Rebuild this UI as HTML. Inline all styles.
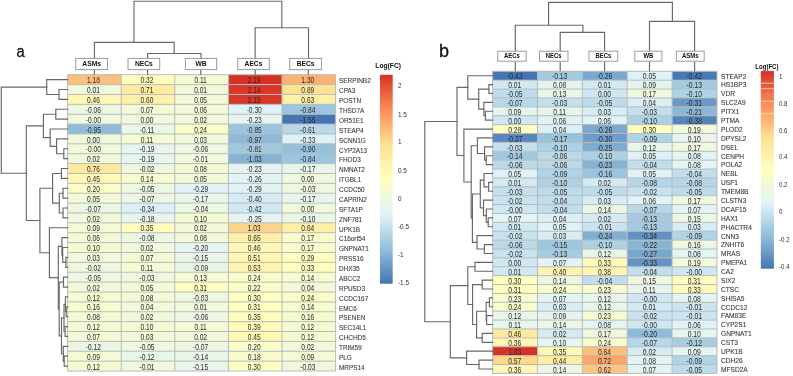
<!DOCTYPE html>
<html><head><meta charset="utf-8"><title>Heatmaps</title>
<style>
html,body{margin:0;padding:0;background:#fff;}
body{width:793px;height:376px;overflow:hidden;}
svg{display:block;font-family:"Liberation Sans", sans-serif;filter:blur(0.35px);}
</style></head>
<body>
<svg width="793" height="376" viewBox="0 0 793 376" shape-rendering="auto">
<text x="0.00" y="0.00" font-size="17.2" text-anchor="start" font-weight="normal" fill="#111" stroke="#111" stroke-width="0.3" transform="translate(16.60,56.70) scale(0.86,1)">a</text>
<text x="439.00" y="57.40" font-size="18" text-anchor="start" font-weight="normal" fill="#111" stroke="#111" stroke-width="0.3">b</text>
<rect x="67.60" y="74.70" width="53.60" height="9.88" fill="#fdc07b"/>
<rect x="121.20" y="74.70" width="53.60" height="9.88" fill="#ffffbf"/>
<rect x="174.80" y="74.70" width="53.60" height="9.88" fill="#f5fbd2"/>
<rect x="228.40" y="74.70" width="53.60" height="9.88" fill="#d73027"/>
<rect x="282.00" y="74.70" width="53.60" height="9.88" fill="#fdb171"/>
<rect x="67.60" y="84.58" width="53.60" height="9.88" fill="#f0f9db"/>
<rect x="121.20" y="84.58" width="53.60" height="9.88" fill="#feeca2"/>
<rect x="174.80" y="84.58" width="53.60" height="9.88" fill="#f0f9db"/>
<rect x="228.40" y="84.58" width="53.60" height="9.88" fill="#da372b"/>
<rect x="282.00" y="84.58" width="53.60" height="9.88" fill="#fee394"/>
<rect x="67.60" y="94.45" width="53.60" height="9.88" fill="#fff8b4"/>
<rect x="121.20" y="94.45" width="53.60" height="9.88" fill="#fff1aa"/>
<rect x="174.80" y="94.45" width="53.60" height="9.88" fill="#f2fad8"/>
<rect x="228.40" y="94.45" width="53.60" height="9.88" fill="#d9362a"/>
<rect x="282.00" y="94.45" width="53.60" height="9.88" fill="#fff0a8"/>
<rect x="67.60" y="104.33" width="53.60" height="9.88" fill="#ecf8e2"/>
<rect x="121.20" y="104.33" width="53.60" height="9.88" fill="#f3fad6"/>
<rect x="174.80" y="104.33" width="53.60" height="9.88" fill="#f2fad7"/>
<rect x="228.40" y="104.33" width="53.60" height="9.88" fill="#e0f3f8"/>
<rect x="282.00" y="104.33" width="53.60" height="9.88" fill="#9cc6df"/>
<rect x="67.60" y="114.21" width="53.60" height="9.88" fill="#eff9dc"/>
<rect x="121.20" y="114.21" width="53.60" height="9.88" fill="#eff9dc"/>
<rect x="174.80" y="114.21" width="53.60" height="9.88" fill="#f0f9da"/>
<rect x="228.40" y="114.21" width="53.60" height="9.88" fill="#e4f4f1"/>
<rect x="282.00" y="114.21" width="53.60" height="9.88" fill="#4575b4"/>
<rect x="67.60" y="124.08" width="53.60" height="9.88" fill="#8ebcda"/>
<rect x="121.20" y="124.08" width="53.60" height="9.88" fill="#eaf7e6"/>
<rect x="174.80" y="124.08" width="53.60" height="9.88" fill="#fbfdc6"/>
<rect x="228.40" y="124.08" width="53.60" height="9.88" fill="#9bc5df"/>
<rect x="282.00" y="124.08" width="53.60" height="9.88" fill="#b9d9ea"/>
<rect x="67.60" y="133.96" width="53.60" height="9.88" fill="#eff9dc"/>
<rect x="121.20" y="133.96" width="53.60" height="9.88" fill="#f5fbd2"/>
<rect x="174.80" y="133.96" width="53.60" height="9.88" fill="#f1f9da"/>
<rect x="228.40" y="133.96" width="53.60" height="9.88" fill="#8cbad8"/>
<rect x="282.00" y="133.96" width="53.60" height="9.88" fill="#ddf1f7"/>
<rect x="67.60" y="143.84" width="53.60" height="9.88" fill="#eff9dc"/>
<rect x="121.20" y="143.84" width="53.60" height="9.88" fill="#e6f5ee"/>
<rect x="174.80" y="143.84" width="53.60" height="9.88" fill="#ecf8e2"/>
<rect x="228.40" y="143.84" width="53.60" height="9.88" fill="#a0c9e0"/>
<rect x="282.00" y="143.84" width="53.60" height="9.88" fill="#94c1dc"/>
<rect x="67.60" y="153.71" width="53.60" height="9.88" fill="#f0f9da"/>
<rect x="121.20" y="153.71" width="53.60" height="9.88" fill="#e6f5ee"/>
<rect x="174.80" y="153.71" width="53.60" height="9.88" fill="#eff9dd"/>
<rect x="228.40" y="153.71" width="53.60" height="9.88" fill="#84b3d5"/>
<rect x="282.00" y="153.71" width="53.60" height="9.88" fill="#9cc6df"/>
<rect x="67.60" y="163.59" width="53.60" height="9.88" fill="#fee99e"/>
<rect x="121.20" y="163.59" width="53.60" height="9.88" fill="#eef8de"/>
<rect x="174.80" y="163.59" width="53.60" height="9.88" fill="#f3fad5"/>
<rect x="228.40" y="163.59" width="53.60" height="9.88" fill="#e4f4f1"/>
<rect x="282.00" y="163.59" width="53.60" height="9.88" fill="#e7f6ec"/>
<rect x="67.60" y="173.47" width="53.60" height="9.88" fill="#fff9b5"/>
<rect x="121.20" y="173.47" width="53.60" height="9.88" fill="#f6fccf"/>
<rect x="174.80" y="173.47" width="53.60" height="9.88" fill="#f2fad8"/>
<rect x="228.40" y="173.47" width="53.60" height="9.88" fill="#e2f4f4"/>
<rect x="282.00" y="173.47" width="53.60" height="9.88" fill="#eff9dc"/>
<rect x="67.60" y="183.34" width="53.60" height="9.88" fill="#f9fdca"/>
<rect x="121.20" y="183.34" width="53.60" height="9.88" fill="#edf8e1"/>
<rect x="174.80" y="183.34" width="53.60" height="9.88" fill="#e1f3f7"/>
<rect x="228.40" y="183.34" width="53.60" height="9.88" fill="#e1f3f7"/>
<rect x="282.00" y="183.34" width="53.60" height="9.88" fill="#eef8df"/>
<rect x="67.60" y="193.22" width="53.60" height="9.88" fill="#f2fad8"/>
<rect x="121.20" y="193.22" width="53.60" height="9.88" fill="#ecf7e3"/>
<rect x="174.80" y="193.22" width="53.60" height="9.88" fill="#e7f6ec"/>
<rect x="228.40" y="193.22" width="53.60" height="9.88" fill="#d4ebf4"/>
<rect x="282.00" y="193.22" width="53.60" height="9.88" fill="#e7f6ec"/>
<rect x="67.60" y="203.10" width="53.60" height="9.88" fill="#ecf7e3"/>
<rect x="121.20" y="203.10" width="53.60" height="9.88" fill="#dbf0f6"/>
<rect x="174.80" y="203.10" width="53.60" height="9.88" fill="#edf8e0"/>
<rect x="228.40" y="203.10" width="53.60" height="9.88" fill="#d1e9f3"/>
<rect x="282.00" y="203.10" width="53.60" height="9.88" fill="#eff9dc"/>
<rect x="67.60" y="212.97" width="53.60" height="9.88" fill="#f0f9da"/>
<rect x="121.20" y="212.97" width="53.60" height="9.88" fill="#e6f5ed"/>
<rect x="174.80" y="212.97" width="53.60" height="9.88" fill="#f4fbd3"/>
<rect x="228.40" y="212.97" width="53.60" height="9.88" fill="#e3f4f3"/>
<rect x="282.00" y="212.97" width="53.60" height="9.88" fill="#eaf7e5"/>
<rect x="67.60" y="222.85" width="53.60" height="9.88" fill="#f4fbd4"/>
<rect x="121.20" y="222.85" width="53.60" height="9.88" fill="#fffebd"/>
<rect x="174.80" y="222.85" width="53.60" height="9.88" fill="#f0f9da"/>
<rect x="228.40" y="222.85" width="53.60" height="9.88" fill="#fed488"/>
<rect x="282.00" y="222.85" width="53.60" height="9.88" fill="#feefa7"/>
<rect x="67.60" y="232.73" width="53.60" height="9.88" fill="#f2fad7"/>
<rect x="121.20" y="232.73" width="53.60" height="9.88" fill="#ebf7e4"/>
<rect x="174.80" y="232.73" width="53.60" height="9.88" fill="#f3fad5"/>
<rect x="228.40" y="232.73" width="53.60" height="9.88" fill="#feefa6"/>
<rect x="282.00" y="232.73" width="53.60" height="9.88" fill="#f8fccd"/>
<rect x="67.60" y="242.60" width="53.60" height="9.88" fill="#f4fbd3"/>
<rect x="121.20" y="242.60" width="53.60" height="9.88" fill="#f0f9da"/>
<rect x="174.80" y="242.60" width="53.60" height="9.88" fill="#e5f5ef"/>
<rect x="228.40" y="242.60" width="53.60" height="9.88" fill="#fff8b4"/>
<rect x="282.00" y="242.60" width="53.60" height="9.88" fill="#f8fccd"/>
<rect x="67.60" y="252.48" width="53.60" height="9.88" fill="#f1f9da"/>
<rect x="121.20" y="252.48" width="53.60" height="9.88" fill="#f3fad6"/>
<rect x="174.80" y="252.48" width="53.60" height="9.88" fill="#e8f6ea"/>
<rect x="228.40" y="252.48" width="53.60" height="9.88" fill="#fff6b1"/>
<rect x="282.00" y="252.48" width="53.60" height="9.88" fill="#fefec2"/>
<rect x="67.60" y="262.36" width="53.60" height="9.88" fill="#eef8de"/>
<rect x="121.20" y="262.36" width="53.60" height="9.88" fill="#f5fbd2"/>
<rect x="174.80" y="262.36" width="53.60" height="9.88" fill="#ebf7e4"/>
<rect x="228.40" y="262.36" width="53.60" height="9.88" fill="#fff5af"/>
<rect x="282.00" y="262.36" width="53.60" height="9.88" fill="#ffffbe"/>
<rect x="67.60" y="272.23" width="53.60" height="9.88" fill="#edf8e1"/>
<rect x="121.20" y="272.23" width="53.60" height="9.88" fill="#eef8df"/>
<rect x="174.80" y="272.23" width="53.60" height="9.88" fill="#f6fbd0"/>
<rect x="228.40" y="272.23" width="53.60" height="9.88" fill="#fbfdc6"/>
<rect x="282.00" y="272.23" width="53.60" height="9.88" fill="#f6fccf"/>
<rect x="67.60" y="282.11" width="53.60" height="9.88" fill="#f0f9da"/>
<rect x="121.20" y="282.11" width="53.60" height="9.88" fill="#f2fad8"/>
<rect x="174.80" y="282.11" width="53.60" height="9.88" fill="#ffffc0"/>
<rect x="228.40" y="282.11" width="53.60" height="9.88" fill="#fafdc8"/>
<rect x="282.00" y="282.11" width="53.60" height="9.88" fill="#f1fad9"/>
<rect x="67.60" y="291.99" width="53.60" height="9.88" fill="#f5fbd1"/>
<rect x="121.20" y="291.99" width="53.60" height="9.88" fill="#f3fad5"/>
<rect x="174.80" y="291.99" width="53.60" height="9.88" fill="#eef8df"/>
<rect x="228.40" y="291.99" width="53.60" height="9.88" fill="#feffc1"/>
<rect x="282.00" y="291.99" width="53.60" height="9.88" fill="#fbfdc6"/>
<rect x="67.60" y="301.86" width="53.60" height="9.88" fill="#f7fcce"/>
<rect x="121.20" y="301.86" width="53.60" height="9.88" fill="#f1fad9"/>
<rect x="174.80" y="301.86" width="53.60" height="9.88" fill="#f0f9db"/>
<rect x="228.40" y="301.86" width="53.60" height="9.88" fill="#ffffc0"/>
<rect x="282.00" y="301.86" width="53.60" height="9.88" fill="#f6fccf"/>
<rect x="67.60" y="311.74" width="53.60" height="9.88" fill="#f3fad5"/>
<rect x="121.20" y="311.74" width="53.60" height="9.88" fill="#f0f9da"/>
<rect x="174.80" y="311.74" width="53.60" height="9.88" fill="#ecf8e2"/>
<rect x="228.40" y="311.74" width="53.60" height="9.88" fill="#fffebd"/>
<rect x="282.00" y="311.74" width="53.60" height="9.88" fill="#f7fcce"/>
<rect x="67.60" y="321.62" width="53.60" height="9.88" fill="#f5fbd1"/>
<rect x="121.20" y="321.62" width="53.60" height="9.88" fill="#f4fbd3"/>
<rect x="174.80" y="321.62" width="53.60" height="9.88" fill="#f5fbd2"/>
<rect x="228.40" y="321.62" width="53.60" height="9.88" fill="#fffcba"/>
<rect x="282.00" y="321.62" width="53.60" height="9.88" fill="#f5fbd1"/>
<rect x="67.60" y="331.49" width="53.60" height="9.88" fill="#f3fad6"/>
<rect x="121.20" y="331.49" width="53.60" height="9.88" fill="#f1f9da"/>
<rect x="174.80" y="331.49" width="53.60" height="9.88" fill="#f0f9da"/>
<rect x="228.40" y="331.49" width="53.60" height="9.88" fill="#fff9b5"/>
<rect x="282.00" y="331.49" width="53.60" height="9.88" fill="#f5fbd1"/>
<rect x="67.60" y="341.37" width="53.60" height="9.88" fill="#e9f7e7"/>
<rect x="121.20" y="341.37" width="53.60" height="9.88" fill="#edf8e1"/>
<rect x="174.80" y="341.37" width="53.60" height="9.88" fill="#ecf7e3"/>
<rect x="228.40" y="341.37" width="53.60" height="9.88" fill="#f9fdca"/>
<rect x="282.00" y="341.37" width="53.60" height="9.88" fill="#f0f9da"/>
<rect x="67.60" y="351.25" width="53.60" height="9.88" fill="#f4fbd4"/>
<rect x="121.20" y="351.25" width="53.60" height="9.88" fill="#e9f7e7"/>
<rect x="174.80" y="351.25" width="53.60" height="9.88" fill="#e8f6e9"/>
<rect x="228.40" y="351.25" width="53.60" height="9.88" fill="#f8fccc"/>
<rect x="282.00" y="351.25" width="53.60" height="9.88" fill="#f4fbd4"/>
<rect x="67.60" y="361.12" width="53.60" height="9.88" fill="#f5fbd1"/>
<rect x="121.20" y="361.12" width="53.60" height="9.88" fill="#eff9dd"/>
<rect x="174.80" y="361.12" width="53.60" height="9.88" fill="#e8f6ea"/>
<rect x="228.40" y="361.12" width="53.60" height="9.88" fill="#feffc1"/>
<rect x="282.00" y="361.12" width="53.60" height="9.88" fill="#eef8df"/>
<line x1="67.60" y1="74.70" x2="335.60" y2="74.70" stroke="#bababa" stroke-width="1"/>
<line x1="67.60" y1="84.58" x2="335.60" y2="84.58" stroke="#bababa" stroke-width="1"/>
<line x1="67.60" y1="94.45" x2="335.60" y2="94.45" stroke="#bababa" stroke-width="1"/>
<line x1="67.60" y1="104.33" x2="335.60" y2="104.33" stroke="#bababa" stroke-width="1"/>
<line x1="67.60" y1="114.21" x2="335.60" y2="114.21" stroke="#bababa" stroke-width="1"/>
<line x1="67.60" y1="124.08" x2="335.60" y2="124.08" stroke="#bababa" stroke-width="1"/>
<line x1="67.60" y1="133.96" x2="335.60" y2="133.96" stroke="#bababa" stroke-width="1"/>
<line x1="67.60" y1="143.84" x2="335.60" y2="143.84" stroke="#bababa" stroke-width="1"/>
<line x1="67.60" y1="153.71" x2="335.60" y2="153.71" stroke="#bababa" stroke-width="1"/>
<line x1="67.60" y1="163.59" x2="335.60" y2="163.59" stroke="#bababa" stroke-width="1"/>
<line x1="67.60" y1="173.47" x2="335.60" y2="173.47" stroke="#bababa" stroke-width="1"/>
<line x1="67.60" y1="183.34" x2="335.60" y2="183.34" stroke="#bababa" stroke-width="1"/>
<line x1="67.60" y1="193.22" x2="335.60" y2="193.22" stroke="#bababa" stroke-width="1"/>
<line x1="67.60" y1="203.10" x2="335.60" y2="203.10" stroke="#bababa" stroke-width="1"/>
<line x1="67.60" y1="212.97" x2="335.60" y2="212.97" stroke="#bababa" stroke-width="1"/>
<line x1="67.60" y1="222.85" x2="335.60" y2="222.85" stroke="#bababa" stroke-width="1"/>
<line x1="67.60" y1="232.73" x2="335.60" y2="232.73" stroke="#bababa" stroke-width="1"/>
<line x1="67.60" y1="242.60" x2="335.60" y2="242.60" stroke="#bababa" stroke-width="1"/>
<line x1="67.60" y1="252.48" x2="335.60" y2="252.48" stroke="#bababa" stroke-width="1"/>
<line x1="67.60" y1="262.36" x2="335.60" y2="262.36" stroke="#bababa" stroke-width="1"/>
<line x1="67.60" y1="272.23" x2="335.60" y2="272.23" stroke="#bababa" stroke-width="1"/>
<line x1="67.60" y1="282.11" x2="335.60" y2="282.11" stroke="#bababa" stroke-width="1"/>
<line x1="67.60" y1="291.99" x2="335.60" y2="291.99" stroke="#bababa" stroke-width="1"/>
<line x1="67.60" y1="301.86" x2="335.60" y2="301.86" stroke="#bababa" stroke-width="1"/>
<line x1="67.60" y1="311.74" x2="335.60" y2="311.74" stroke="#bababa" stroke-width="1"/>
<line x1="67.60" y1="321.62" x2="335.60" y2="321.62" stroke="#bababa" stroke-width="1"/>
<line x1="67.60" y1="331.49" x2="335.60" y2="331.49" stroke="#bababa" stroke-width="1"/>
<line x1="67.60" y1="341.37" x2="335.60" y2="341.37" stroke="#bababa" stroke-width="1"/>
<line x1="67.60" y1="351.25" x2="335.60" y2="351.25" stroke="#bababa" stroke-width="1"/>
<line x1="67.60" y1="361.12" x2="335.60" y2="361.12" stroke="#bababa" stroke-width="1"/>
<line x1="67.60" y1="371.00" x2="335.60" y2="371.00" stroke="#bababa" stroke-width="1"/>
<line x1="67.60" y1="74.70" x2="67.60" y2="371.00" stroke="#bababa" stroke-width="1"/>
<line x1="121.20" y1="74.70" x2="121.20" y2="371.00" stroke="#bababa" stroke-width="1"/>
<line x1="174.80" y1="74.70" x2="174.80" y2="371.00" stroke="#bababa" stroke-width="1"/>
<line x1="228.40" y1="74.70" x2="228.40" y2="371.00" stroke="#bababa" stroke-width="1"/>
<line x1="282.00" y1="74.70" x2="282.00" y2="371.00" stroke="#bababa" stroke-width="1"/>
<line x1="335.60" y1="74.70" x2="335.60" y2="371.00" stroke="#bababa" stroke-width="1"/>
<text x="0.00" y="0.00" font-size="8.3" text-anchor="middle" font-weight="normal" fill="#2a2a2a" transform="translate(93.40,83.33) scale(0.8,1)">1.18</text>
<text x="0.00" y="0.00" font-size="8.3" text-anchor="middle" font-weight="normal" fill="#2a2a2a" transform="translate(147.00,83.33) scale(0.8,1)">0.32</text>
<text x="0.00" y="0.00" font-size="8.3" text-anchor="middle" font-weight="normal" fill="#2a2a2a" transform="translate(200.60,83.33) scale(0.8,1)">0.11</text>
<text x="0.00" y="0.00" font-size="8.3" text-anchor="middle" font-weight="normal" fill="#2a2a2a" transform="translate(254.20,83.33) scale(0.8,1)">2.19</text>
<text x="0.00" y="0.00" font-size="8.3" text-anchor="middle" font-weight="normal" fill="#2a2a2a" transform="translate(307.80,83.33) scale(0.8,1)">1.30</text>
<text x="0.00" y="0.00" font-size="7.3" text-anchor="start" font-weight="normal" fill="#3a3a3a" stroke="#3a3a3a" stroke-width="0.1" transform="translate(339.00,83.37) scale(0.88,1)">SERPINB2</text>
<text x="0.00" y="0.00" font-size="8.3" text-anchor="middle" font-weight="normal" fill="#2a2a2a" transform="translate(93.40,93.20) scale(0.8,1)">0.01</text>
<text x="0.00" y="0.00" font-size="8.3" text-anchor="middle" font-weight="normal" fill="#2a2a2a" transform="translate(147.00,93.20) scale(0.8,1)">0.71</text>
<text x="0.00" y="0.00" font-size="8.3" text-anchor="middle" font-weight="normal" fill="#2a2a2a" transform="translate(200.60,93.20) scale(0.8,1)">0.01</text>
<text x="0.00" y="0.00" font-size="8.3" text-anchor="middle" font-weight="normal" fill="#2a2a2a" transform="translate(254.20,93.20) scale(0.8,1)">2.14</text>
<text x="0.00" y="0.00" font-size="8.3" text-anchor="middle" font-weight="normal" fill="#2a2a2a" transform="translate(307.80,93.20) scale(0.8,1)">0.89</text>
<text x="0.00" y="0.00" font-size="7.3" text-anchor="start" font-weight="normal" fill="#3a3a3a" stroke="#3a3a3a" stroke-width="0.1" transform="translate(339.00,93.24) scale(0.88,1)">CPA3</text>
<text x="0.00" y="0.00" font-size="8.3" text-anchor="middle" font-weight="normal" fill="#2a2a2a" transform="translate(93.40,103.08) scale(0.8,1)">0.46</text>
<text x="0.00" y="0.00" font-size="8.3" text-anchor="middle" font-weight="normal" fill="#2a2a2a" transform="translate(147.00,103.08) scale(0.8,1)">0.60</text>
<text x="0.00" y="0.00" font-size="8.3" text-anchor="middle" font-weight="normal" fill="#2a2a2a" transform="translate(200.60,103.08) scale(0.8,1)">0.05</text>
<text x="0.00" y="0.00" font-size="8.3" text-anchor="middle" font-weight="normal" fill="#2a2a2a" transform="translate(254.20,103.08) scale(0.8,1)">2.15</text>
<text x="0.00" y="0.00" font-size="8.3" text-anchor="middle" font-weight="normal" fill="#2a2a2a" transform="translate(307.80,103.08) scale(0.8,1)">0.63</text>
<text x="0.00" y="0.00" font-size="7.3" text-anchor="start" font-weight="normal" fill="#3a3a3a" stroke="#3a3a3a" stroke-width="0.1" transform="translate(339.00,103.12) scale(0.88,1)">POSTN</text>
<text x="0.00" y="0.00" font-size="8.3" text-anchor="middle" font-weight="normal" fill="#2a2a2a" transform="translate(93.40,112.96) scale(0.8,1)">-0.06</text>
<text x="0.00" y="0.00" font-size="8.3" text-anchor="middle" font-weight="normal" fill="#2a2a2a" transform="translate(147.00,112.96) scale(0.8,1)">0.07</text>
<text x="0.00" y="0.00" font-size="8.3" text-anchor="middle" font-weight="normal" fill="#2a2a2a" transform="translate(200.60,112.96) scale(0.8,1)">0.06</text>
<text x="0.00" y="0.00" font-size="8.3" text-anchor="middle" font-weight="normal" fill="#2a2a2a" transform="translate(254.20,112.96) scale(0.8,1)">-0.30</text>
<text x="0.00" y="0.00" font-size="8.3" text-anchor="middle" font-weight="normal" fill="#2a2a2a" transform="translate(307.80,112.96) scale(0.8,1)">-0.84</text>
<text x="0.00" y="0.00" font-size="7.3" text-anchor="start" font-weight="normal" fill="#3a3a3a" stroke="#3a3a3a" stroke-width="0.1" transform="translate(339.00,113.00) scale(0.88,1)">THSD7A</text>
<text x="0.00" y="0.00" font-size="8.3" text-anchor="middle" font-weight="normal" fill="#2a2a2a" transform="translate(93.40,122.83) scale(0.8,1)">-0.00</text>
<text x="0.00" y="0.00" font-size="8.3" text-anchor="middle" font-weight="normal" fill="#2a2a2a" transform="translate(147.00,122.83) scale(0.8,1)">0.00</text>
<text x="0.00" y="0.00" font-size="8.3" text-anchor="middle" font-weight="normal" fill="#2a2a2a" transform="translate(200.60,122.83) scale(0.8,1)">0.02</text>
<text x="0.00" y="0.00" font-size="8.3" text-anchor="middle" font-weight="normal" fill="#2a2a2a" transform="translate(254.20,122.83) scale(0.8,1)">-0.23</text>
<text x="0.00" y="0.00" font-size="8.3" text-anchor="middle" font-weight="normal" fill="#2a2a2a" transform="translate(307.80,122.83) scale(0.8,1)">-1.55</text>
<text x="0.00" y="0.00" font-size="7.3" text-anchor="start" font-weight="normal" fill="#3a3a3a" stroke="#3a3a3a" stroke-width="0.1" transform="translate(339.00,122.87) scale(0.88,1)">OR51E1</text>
<text x="0.00" y="0.00" font-size="8.3" text-anchor="middle" font-weight="normal" fill="#2a2a2a" transform="translate(93.40,132.71) scale(0.8,1)">-0.95</text>
<text x="0.00" y="0.00" font-size="8.3" text-anchor="middle" font-weight="normal" fill="#2a2a2a" transform="translate(147.00,132.71) scale(0.8,1)">-0.11</text>
<text x="0.00" y="0.00" font-size="8.3" text-anchor="middle" font-weight="normal" fill="#2a2a2a" transform="translate(200.60,132.71) scale(0.8,1)">0.24</text>
<text x="0.00" y="0.00" font-size="8.3" text-anchor="middle" font-weight="normal" fill="#2a2a2a" transform="translate(254.20,132.71) scale(0.8,1)">-0.85</text>
<text x="0.00" y="0.00" font-size="8.3" text-anchor="middle" font-weight="normal" fill="#2a2a2a" transform="translate(307.80,132.71) scale(0.8,1)">-0.61</text>
<text x="0.00" y="0.00" font-size="7.3" text-anchor="start" font-weight="normal" fill="#3a3a3a" stroke="#3a3a3a" stroke-width="0.1" transform="translate(339.00,132.75) scale(0.88,1)">STEAP4</text>
<text x="0.00" y="0.00" font-size="8.3" text-anchor="middle" font-weight="normal" fill="#2a2a2a" transform="translate(93.40,142.59) scale(0.8,1)">0.00</text>
<text x="0.00" y="0.00" font-size="8.3" text-anchor="middle" font-weight="normal" fill="#2a2a2a" transform="translate(147.00,142.59) scale(0.8,1)">0.11</text>
<text x="0.00" y="0.00" font-size="8.3" text-anchor="middle" font-weight="normal" fill="#2a2a2a" transform="translate(200.60,142.59) scale(0.8,1)">0.03</text>
<text x="0.00" y="0.00" font-size="8.3" text-anchor="middle" font-weight="normal" fill="#2a2a2a" transform="translate(254.20,142.59) scale(0.8,1)">-0.97</text>
<text x="0.00" y="0.00" font-size="8.3" text-anchor="middle" font-weight="normal" fill="#2a2a2a" transform="translate(307.80,142.59) scale(0.8,1)">-0.33</text>
<text x="0.00" y="0.00" font-size="7.3" text-anchor="start" font-weight="normal" fill="#3a3a3a" stroke="#3a3a3a" stroke-width="0.1" transform="translate(339.00,142.63) scale(0.88,1)">SCNN1G</text>
<text x="0.00" y="0.00" font-size="8.3" text-anchor="middle" font-weight="normal" fill="#2a2a2a" transform="translate(93.40,152.46) scale(0.8,1)">-0.00</text>
<text x="0.00" y="0.00" font-size="8.3" text-anchor="middle" font-weight="normal" fill="#2a2a2a" transform="translate(147.00,152.46) scale(0.8,1)">-0.19</text>
<text x="0.00" y="0.00" font-size="8.3" text-anchor="middle" font-weight="normal" fill="#2a2a2a" transform="translate(200.60,152.46) scale(0.8,1)">-0.06</text>
<text x="0.00" y="0.00" font-size="8.3" text-anchor="middle" font-weight="normal" fill="#2a2a2a" transform="translate(254.20,152.46) scale(0.8,1)">-0.81</text>
<text x="0.00" y="0.00" font-size="8.3" text-anchor="middle" font-weight="normal" fill="#2a2a2a" transform="translate(307.80,152.46) scale(0.8,1)">-0.90</text>
<text x="0.00" y="0.00" font-size="7.3" text-anchor="start" font-weight="normal" fill="#3a3a3a" stroke="#3a3a3a" stroke-width="0.1" transform="translate(339.00,152.50) scale(0.88,1)">CYP2A13</text>
<text x="0.00" y="0.00" font-size="8.3" text-anchor="middle" font-weight="normal" fill="#2a2a2a" transform="translate(93.40,162.34) scale(0.8,1)">0.02</text>
<text x="0.00" y="0.00" font-size="8.3" text-anchor="middle" font-weight="normal" fill="#2a2a2a" transform="translate(147.00,162.34) scale(0.8,1)">-0.19</text>
<text x="0.00" y="0.00" font-size="8.3" text-anchor="middle" font-weight="normal" fill="#2a2a2a" transform="translate(200.60,162.34) scale(0.8,1)">-0.01</text>
<text x="0.00" y="0.00" font-size="8.3" text-anchor="middle" font-weight="normal" fill="#2a2a2a" transform="translate(254.20,162.34) scale(0.8,1)">-1.03</text>
<text x="0.00" y="0.00" font-size="8.3" text-anchor="middle" font-weight="normal" fill="#2a2a2a" transform="translate(307.80,162.34) scale(0.8,1)">-0.84</text>
<text x="0.00" y="0.00" font-size="7.3" text-anchor="start" font-weight="normal" fill="#3a3a3a" stroke="#3a3a3a" stroke-width="0.1" transform="translate(339.00,162.38) scale(0.88,1)">FHOD3</text>
<text x="0.00" y="0.00" font-size="8.3" text-anchor="middle" font-weight="normal" fill="#2a2a2a" transform="translate(93.40,172.22) scale(0.8,1)">0.76</text>
<text x="0.00" y="0.00" font-size="8.3" text-anchor="middle" font-weight="normal" fill="#2a2a2a" transform="translate(147.00,172.22) scale(0.8,1)">-0.02</text>
<text x="0.00" y="0.00" font-size="8.3" text-anchor="middle" font-weight="normal" fill="#2a2a2a" transform="translate(200.60,172.22) scale(0.8,1)">0.08</text>
<text x="0.00" y="0.00" font-size="8.3" text-anchor="middle" font-weight="normal" fill="#2a2a2a" transform="translate(254.20,172.22) scale(0.8,1)">-0.23</text>
<text x="0.00" y="0.00" font-size="8.3" text-anchor="middle" font-weight="normal" fill="#2a2a2a" transform="translate(307.80,172.22) scale(0.8,1)">-0.17</text>
<text x="0.00" y="0.00" font-size="7.3" text-anchor="start" font-weight="normal" fill="#3a3a3a" stroke="#3a3a3a" stroke-width="0.1" transform="translate(339.00,172.26) scale(0.88,1)">NMNAT2</text>
<text x="0.00" y="0.00" font-size="8.3" text-anchor="middle" font-weight="normal" fill="#2a2a2a" transform="translate(93.40,182.09) scale(0.8,1)">0.45</text>
<text x="0.00" y="0.00" font-size="8.3" text-anchor="middle" font-weight="normal" fill="#2a2a2a" transform="translate(147.00,182.09) scale(0.8,1)">0.14</text>
<text x="0.00" y="0.00" font-size="8.3" text-anchor="middle" font-weight="normal" fill="#2a2a2a" transform="translate(200.60,182.09) scale(0.8,1)">0.05</text>
<text x="0.00" y="0.00" font-size="8.3" text-anchor="middle" font-weight="normal" fill="#2a2a2a" transform="translate(254.20,182.09) scale(0.8,1)">-0.26</text>
<text x="0.00" y="0.00" font-size="8.3" text-anchor="middle" font-weight="normal" fill="#2a2a2a" transform="translate(307.80,182.09) scale(0.8,1)">0.00</text>
<text x="0.00" y="0.00" font-size="7.3" text-anchor="start" font-weight="normal" fill="#3a3a3a" stroke="#3a3a3a" stroke-width="0.1" transform="translate(339.00,182.13) scale(0.88,1)">ITGBL1</text>
<text x="0.00" y="0.00" font-size="8.3" text-anchor="middle" font-weight="normal" fill="#2a2a2a" transform="translate(93.40,191.97) scale(0.8,1)">0.20</text>
<text x="0.00" y="0.00" font-size="8.3" text-anchor="middle" font-weight="normal" fill="#2a2a2a" transform="translate(147.00,191.97) scale(0.8,1)">-0.05</text>
<text x="0.00" y="0.00" font-size="8.3" text-anchor="middle" font-weight="normal" fill="#2a2a2a" transform="translate(200.60,191.97) scale(0.8,1)">-0.29</text>
<text x="0.00" y="0.00" font-size="8.3" text-anchor="middle" font-weight="normal" fill="#2a2a2a" transform="translate(254.20,191.97) scale(0.8,1)">-0.29</text>
<text x="0.00" y="0.00" font-size="8.3" text-anchor="middle" font-weight="normal" fill="#2a2a2a" transform="translate(307.80,191.97) scale(0.8,1)">-0.03</text>
<text x="0.00" y="0.00" font-size="7.3" text-anchor="start" font-weight="normal" fill="#3a3a3a" stroke="#3a3a3a" stroke-width="0.1" transform="translate(339.00,192.01) scale(0.88,1)">CCDC50</text>
<text x="0.00" y="0.00" font-size="8.3" text-anchor="middle" font-weight="normal" fill="#2a2a2a" transform="translate(93.40,201.85) scale(0.8,1)">0.05</text>
<text x="0.00" y="0.00" font-size="8.3" text-anchor="middle" font-weight="normal" fill="#2a2a2a" transform="translate(147.00,201.85) scale(0.8,1)">-0.07</text>
<text x="0.00" y="0.00" font-size="8.3" text-anchor="middle" font-weight="normal" fill="#2a2a2a" transform="translate(200.60,201.85) scale(0.8,1)">-0.17</text>
<text x="0.00" y="0.00" font-size="8.3" text-anchor="middle" font-weight="normal" fill="#2a2a2a" transform="translate(254.20,201.85) scale(0.8,1)">-0.40</text>
<text x="0.00" y="0.00" font-size="8.3" text-anchor="middle" font-weight="normal" fill="#2a2a2a" transform="translate(307.80,201.85) scale(0.8,1)">-0.17</text>
<text x="0.00" y="0.00" font-size="7.3" text-anchor="start" font-weight="normal" fill="#3a3a3a" stroke="#3a3a3a" stroke-width="0.1" transform="translate(339.00,201.89) scale(0.88,1)">CAPRIN2</text>
<text x="0.00" y="0.00" font-size="8.3" text-anchor="middle" font-weight="normal" fill="#2a2a2a" transform="translate(93.40,211.72) scale(0.8,1)">-0.07</text>
<text x="0.00" y="0.00" font-size="8.3" text-anchor="middle" font-weight="normal" fill="#2a2a2a" transform="translate(147.00,211.72) scale(0.8,1)">-0.34</text>
<text x="0.00" y="0.00" font-size="8.3" text-anchor="middle" font-weight="normal" fill="#2a2a2a" transform="translate(200.60,211.72) scale(0.8,1)">-0.04</text>
<text x="0.00" y="0.00" font-size="8.3" text-anchor="middle" font-weight="normal" fill="#2a2a2a" transform="translate(254.20,211.72) scale(0.8,1)">-0.42</text>
<text x="0.00" y="0.00" font-size="8.3" text-anchor="middle" font-weight="normal" fill="#2a2a2a" transform="translate(307.80,211.72) scale(0.8,1)">0.00</text>
<text x="0.00" y="0.00" font-size="7.3" text-anchor="start" font-weight="normal" fill="#3a3a3a" stroke="#3a3a3a" stroke-width="0.1" transform="translate(339.00,211.76) scale(0.88,1)">SFTA1P</text>
<text x="0.00" y="0.00" font-size="8.3" text-anchor="middle" font-weight="normal" fill="#2a2a2a" transform="translate(93.40,221.60) scale(0.8,1)">0.02</text>
<text x="0.00" y="0.00" font-size="8.3" text-anchor="middle" font-weight="normal" fill="#2a2a2a" transform="translate(147.00,221.60) scale(0.8,1)">-0.18</text>
<text x="0.00" y="0.00" font-size="8.3" text-anchor="middle" font-weight="normal" fill="#2a2a2a" transform="translate(200.60,221.60) scale(0.8,1)">0.10</text>
<text x="0.00" y="0.00" font-size="8.3" text-anchor="middle" font-weight="normal" fill="#2a2a2a" transform="translate(254.20,221.60) scale(0.8,1)">-0.25</text>
<text x="0.00" y="0.00" font-size="8.3" text-anchor="middle" font-weight="normal" fill="#2a2a2a" transform="translate(307.80,221.60) scale(0.8,1)">-0.10</text>
<text x="0.00" y="0.00" font-size="7.3" text-anchor="start" font-weight="normal" fill="#3a3a3a" stroke="#3a3a3a" stroke-width="0.1" transform="translate(339.00,221.64) scale(0.88,1)">ZNF781</text>
<text x="0.00" y="0.00" font-size="8.3" text-anchor="middle" font-weight="normal" fill="#2a2a2a" transform="translate(93.40,231.48) scale(0.8,1)">0.09</text>
<text x="0.00" y="0.00" font-size="8.3" text-anchor="middle" font-weight="normal" fill="#2a2a2a" transform="translate(147.00,231.48) scale(0.8,1)">0.35</text>
<text x="0.00" y="0.00" font-size="8.3" text-anchor="middle" font-weight="normal" fill="#2a2a2a" transform="translate(200.60,231.48) scale(0.8,1)">0.02</text>
<text x="0.00" y="0.00" font-size="8.3" text-anchor="middle" font-weight="normal" fill="#2a2a2a" transform="translate(254.20,231.48) scale(0.8,1)">1.03</text>
<text x="0.00" y="0.00" font-size="8.3" text-anchor="middle" font-weight="normal" fill="#2a2a2a" transform="translate(307.80,231.48) scale(0.8,1)">0.64</text>
<text x="0.00" y="0.00" font-size="7.3" text-anchor="start" font-weight="normal" fill="#3a3a3a" stroke="#3a3a3a" stroke-width="0.1" transform="translate(339.00,231.52) scale(0.88,1)">UPK1B</text>
<text x="0.00" y="0.00" font-size="8.3" text-anchor="middle" font-weight="normal" fill="#2a2a2a" transform="translate(93.40,241.35) scale(0.8,1)">0.06</text>
<text x="0.00" y="0.00" font-size="8.3" text-anchor="middle" font-weight="normal" fill="#2a2a2a" transform="translate(147.00,241.35) scale(0.8,1)">-0.08</text>
<text x="0.00" y="0.00" font-size="8.3" text-anchor="middle" font-weight="normal" fill="#2a2a2a" transform="translate(200.60,241.35) scale(0.8,1)">0.08</text>
<text x="0.00" y="0.00" font-size="8.3" text-anchor="middle" font-weight="normal" fill="#2a2a2a" transform="translate(254.20,241.35) scale(0.8,1)">0.65</text>
<text x="0.00" y="0.00" font-size="8.3" text-anchor="middle" font-weight="normal" fill="#2a2a2a" transform="translate(307.80,241.35) scale(0.8,1)">0.17</text>
<text x="0.00" y="0.00" font-size="7.3" text-anchor="start" font-weight="normal" fill="#3a3a3a" stroke="#3a3a3a" stroke-width="0.1" transform="translate(339.00,241.39) scale(0.88,1)">C16orf54</text>
<text x="0.00" y="0.00" font-size="8.3" text-anchor="middle" font-weight="normal" fill="#2a2a2a" transform="translate(93.40,251.23) scale(0.8,1)">0.10</text>
<text x="0.00" y="0.00" font-size="8.3" text-anchor="middle" font-weight="normal" fill="#2a2a2a" transform="translate(147.00,251.23) scale(0.8,1)">0.02</text>
<text x="0.00" y="0.00" font-size="8.3" text-anchor="middle" font-weight="normal" fill="#2a2a2a" transform="translate(200.60,251.23) scale(0.8,1)">-0.20</text>
<text x="0.00" y="0.00" font-size="8.3" text-anchor="middle" font-weight="normal" fill="#2a2a2a" transform="translate(254.20,251.23) scale(0.8,1)">0.46</text>
<text x="0.00" y="0.00" font-size="8.3" text-anchor="middle" font-weight="normal" fill="#2a2a2a" transform="translate(307.80,251.23) scale(0.8,1)">0.17</text>
<text x="0.00" y="0.00" font-size="7.3" text-anchor="start" font-weight="normal" fill="#3a3a3a" stroke="#3a3a3a" stroke-width="0.1" transform="translate(339.00,251.27) scale(0.88,1)">GNPNAT1</text>
<text x="0.00" y="0.00" font-size="8.3" text-anchor="middle" font-weight="normal" fill="#2a2a2a" transform="translate(93.40,261.11) scale(0.8,1)">0.03</text>
<text x="0.00" y="0.00" font-size="8.3" text-anchor="middle" font-weight="normal" fill="#2a2a2a" transform="translate(147.00,261.11) scale(0.8,1)">0.07</text>
<text x="0.00" y="0.00" font-size="8.3" text-anchor="middle" font-weight="normal" fill="#2a2a2a" transform="translate(200.60,261.11) scale(0.8,1)">-0.15</text>
<text x="0.00" y="0.00" font-size="8.3" text-anchor="middle" font-weight="normal" fill="#2a2a2a" transform="translate(254.20,261.11) scale(0.8,1)">0.51</text>
<text x="0.00" y="0.00" font-size="8.3" text-anchor="middle" font-weight="normal" fill="#2a2a2a" transform="translate(307.80,261.11) scale(0.8,1)">0.29</text>
<text x="0.00" y="0.00" font-size="7.3" text-anchor="start" font-weight="normal" fill="#3a3a3a" stroke="#3a3a3a" stroke-width="0.1" transform="translate(339.00,261.15) scale(0.88,1)">PRSS16</text>
<text x="0.00" y="0.00" font-size="8.3" text-anchor="middle" font-weight="normal" fill="#2a2a2a" transform="translate(93.40,270.98) scale(0.8,1)">-0.02</text>
<text x="0.00" y="0.00" font-size="8.3" text-anchor="middle" font-weight="normal" fill="#2a2a2a" transform="translate(147.00,270.98) scale(0.8,1)">0.11</text>
<text x="0.00" y="0.00" font-size="8.3" text-anchor="middle" font-weight="normal" fill="#2a2a2a" transform="translate(200.60,270.98) scale(0.8,1)">-0.09</text>
<text x="0.00" y="0.00" font-size="8.3" text-anchor="middle" font-weight="normal" fill="#2a2a2a" transform="translate(254.20,270.98) scale(0.8,1)">0.53</text>
<text x="0.00" y="0.00" font-size="8.3" text-anchor="middle" font-weight="normal" fill="#2a2a2a" transform="translate(307.80,270.98) scale(0.8,1)">0.33</text>
<text x="0.00" y="0.00" font-size="7.3" text-anchor="start" font-weight="normal" fill="#3a3a3a" stroke="#3a3a3a" stroke-width="0.1" transform="translate(339.00,271.02) scale(0.88,1)">DHX35</text>
<text x="0.00" y="0.00" font-size="8.3" text-anchor="middle" font-weight="normal" fill="#2a2a2a" transform="translate(93.40,280.86) scale(0.8,1)">-0.05</text>
<text x="0.00" y="0.00" font-size="8.3" text-anchor="middle" font-weight="normal" fill="#2a2a2a" transform="translate(147.00,280.86) scale(0.8,1)">-0.03</text>
<text x="0.00" y="0.00" font-size="8.3" text-anchor="middle" font-weight="normal" fill="#2a2a2a" transform="translate(200.60,280.86) scale(0.8,1)">0.13</text>
<text x="0.00" y="0.00" font-size="8.3" text-anchor="middle" font-weight="normal" fill="#2a2a2a" transform="translate(254.20,280.86) scale(0.8,1)">0.24</text>
<text x="0.00" y="0.00" font-size="8.3" text-anchor="middle" font-weight="normal" fill="#2a2a2a" transform="translate(307.80,280.86) scale(0.8,1)">0.14</text>
<text x="0.00" y="0.00" font-size="7.3" text-anchor="start" font-weight="normal" fill="#3a3a3a" stroke="#3a3a3a" stroke-width="0.1" transform="translate(339.00,280.90) scale(0.88,1)">ABCC2</text>
<text x="0.00" y="0.00" font-size="8.3" text-anchor="middle" font-weight="normal" fill="#2a2a2a" transform="translate(93.40,290.74) scale(0.8,1)">0.02</text>
<text x="0.00" y="0.00" font-size="8.3" text-anchor="middle" font-weight="normal" fill="#2a2a2a" transform="translate(147.00,290.74) scale(0.8,1)">0.05</text>
<text x="0.00" y="0.00" font-size="8.3" text-anchor="middle" font-weight="normal" fill="#2a2a2a" transform="translate(200.60,290.74) scale(0.8,1)">0.31</text>
<text x="0.00" y="0.00" font-size="8.3" text-anchor="middle" font-weight="normal" fill="#2a2a2a" transform="translate(254.20,290.74) scale(0.8,1)">0.22</text>
<text x="0.00" y="0.00" font-size="8.3" text-anchor="middle" font-weight="normal" fill="#2a2a2a" transform="translate(307.80,290.74) scale(0.8,1)">0.04</text>
<text x="0.00" y="0.00" font-size="7.3" text-anchor="start" font-weight="normal" fill="#3a3a3a" stroke="#3a3a3a" stroke-width="0.1" transform="translate(339.00,290.78) scale(0.88,1)">RPUSD3</text>
<text x="0.00" y="0.00" font-size="8.3" text-anchor="middle" font-weight="normal" fill="#2a2a2a" transform="translate(93.40,300.61) scale(0.8,1)">0.12</text>
<text x="0.00" y="0.00" font-size="8.3" text-anchor="middle" font-weight="normal" fill="#2a2a2a" transform="translate(147.00,300.61) scale(0.8,1)">0.08</text>
<text x="0.00" y="0.00" font-size="8.3" text-anchor="middle" font-weight="normal" fill="#2a2a2a" transform="translate(200.60,300.61) scale(0.8,1)">-0.03</text>
<text x="0.00" y="0.00" font-size="8.3" text-anchor="middle" font-weight="normal" fill="#2a2a2a" transform="translate(254.20,300.61) scale(0.8,1)">0.30</text>
<text x="0.00" y="0.00" font-size="8.3" text-anchor="middle" font-weight="normal" fill="#2a2a2a" transform="translate(307.80,300.61) scale(0.8,1)">0.24</text>
<text x="0.00" y="0.00" font-size="7.3" text-anchor="start" font-weight="normal" fill="#3a3a3a" stroke="#3a3a3a" stroke-width="0.1" transform="translate(339.00,300.65) scale(0.88,1)">CCDC167</text>
<text x="0.00" y="0.00" font-size="8.3" text-anchor="middle" font-weight="normal" fill="#2a2a2a" transform="translate(93.40,310.49) scale(0.8,1)">0.16</text>
<text x="0.00" y="0.00" font-size="8.3" text-anchor="middle" font-weight="normal" fill="#2a2a2a" transform="translate(147.00,310.49) scale(0.8,1)">0.04</text>
<text x="0.00" y="0.00" font-size="8.3" text-anchor="middle" font-weight="normal" fill="#2a2a2a" transform="translate(200.60,310.49) scale(0.8,1)">0.01</text>
<text x="0.00" y="0.00" font-size="8.3" text-anchor="middle" font-weight="normal" fill="#2a2a2a" transform="translate(254.20,310.49) scale(0.8,1)">0.31</text>
<text x="0.00" y="0.00" font-size="8.3" text-anchor="middle" font-weight="normal" fill="#2a2a2a" transform="translate(307.80,310.49) scale(0.8,1)">0.14</text>
<text x="0.00" y="0.00" font-size="7.3" text-anchor="start" font-weight="normal" fill="#3a3a3a" stroke="#3a3a3a" stroke-width="0.1" transform="translate(339.00,310.53) scale(0.88,1)">EMC6</text>
<text x="0.00" y="0.00" font-size="8.3" text-anchor="middle" font-weight="normal" fill="#2a2a2a" transform="translate(93.40,320.37) scale(0.8,1)">0.08</text>
<text x="0.00" y="0.00" font-size="8.3" text-anchor="middle" font-weight="normal" fill="#2a2a2a" transform="translate(147.00,320.37) scale(0.8,1)">0.02</text>
<text x="0.00" y="0.00" font-size="8.3" text-anchor="middle" font-weight="normal" fill="#2a2a2a" transform="translate(200.60,320.37) scale(0.8,1)">-0.06</text>
<text x="0.00" y="0.00" font-size="8.3" text-anchor="middle" font-weight="normal" fill="#2a2a2a" transform="translate(254.20,320.37) scale(0.8,1)">0.35</text>
<text x="0.00" y="0.00" font-size="8.3" text-anchor="middle" font-weight="normal" fill="#2a2a2a" transform="translate(307.80,320.37) scale(0.8,1)">0.16</text>
<text x="0.00" y="0.00" font-size="7.3" text-anchor="start" font-weight="normal" fill="#3a3a3a" stroke="#3a3a3a" stroke-width="0.1" transform="translate(339.00,320.41) scale(0.88,1)">PSENEN</text>
<text x="0.00" y="0.00" font-size="8.3" text-anchor="middle" font-weight="normal" fill="#2a2a2a" transform="translate(93.40,330.24) scale(0.8,1)">0.12</text>
<text x="0.00" y="0.00" font-size="8.3" text-anchor="middle" font-weight="normal" fill="#2a2a2a" transform="translate(147.00,330.24) scale(0.8,1)">0.10</text>
<text x="0.00" y="0.00" font-size="8.3" text-anchor="middle" font-weight="normal" fill="#2a2a2a" transform="translate(200.60,330.24) scale(0.8,1)">0.11</text>
<text x="0.00" y="0.00" font-size="8.3" text-anchor="middle" font-weight="normal" fill="#2a2a2a" transform="translate(254.20,330.24) scale(0.8,1)">0.39</text>
<text x="0.00" y="0.00" font-size="8.3" text-anchor="middle" font-weight="normal" fill="#2a2a2a" transform="translate(307.80,330.24) scale(0.8,1)">0.12</text>
<text x="0.00" y="0.00" font-size="7.3" text-anchor="start" font-weight="normal" fill="#3a3a3a" stroke="#3a3a3a" stroke-width="0.1" transform="translate(339.00,330.28) scale(0.88,1)">SEC14L1</text>
<text x="0.00" y="0.00" font-size="8.3" text-anchor="middle" font-weight="normal" fill="#2a2a2a" transform="translate(93.40,340.12) scale(0.8,1)">0.07</text>
<text x="0.00" y="0.00" font-size="8.3" text-anchor="middle" font-weight="normal" fill="#2a2a2a" transform="translate(147.00,340.12) scale(0.8,1)">0.03</text>
<text x="0.00" y="0.00" font-size="8.3" text-anchor="middle" font-weight="normal" fill="#2a2a2a" transform="translate(200.60,340.12) scale(0.8,1)">0.02</text>
<text x="0.00" y="0.00" font-size="8.3" text-anchor="middle" font-weight="normal" fill="#2a2a2a" transform="translate(254.20,340.12) scale(0.8,1)">0.45</text>
<text x="0.00" y="0.00" font-size="8.3" text-anchor="middle" font-weight="normal" fill="#2a2a2a" transform="translate(307.80,340.12) scale(0.8,1)">0.12</text>
<text x="0.00" y="0.00" font-size="7.3" text-anchor="start" font-weight="normal" fill="#3a3a3a" stroke="#3a3a3a" stroke-width="0.1" transform="translate(339.00,340.16) scale(0.88,1)">CHCHD5</text>
<text x="0.00" y="0.00" font-size="8.3" text-anchor="middle" font-weight="normal" fill="#2a2a2a" transform="translate(93.40,350.00) scale(0.8,1)">-0.12</text>
<text x="0.00" y="0.00" font-size="8.3" text-anchor="middle" font-weight="normal" fill="#2a2a2a" transform="translate(147.00,350.00) scale(0.8,1)">-0.05</text>
<text x="0.00" y="0.00" font-size="8.3" text-anchor="middle" font-weight="normal" fill="#2a2a2a" transform="translate(200.60,350.00) scale(0.8,1)">-0.07</text>
<text x="0.00" y="0.00" font-size="8.3" text-anchor="middle" font-weight="normal" fill="#2a2a2a" transform="translate(254.20,350.00) scale(0.8,1)">0.20</text>
<text x="0.00" y="0.00" font-size="8.3" text-anchor="middle" font-weight="normal" fill="#2a2a2a" transform="translate(307.80,350.00) scale(0.8,1)">0.02</text>
<text x="0.00" y="0.00" font-size="7.3" text-anchor="start" font-weight="normal" fill="#3a3a3a" stroke="#3a3a3a" stroke-width="0.1" transform="translate(339.00,350.04) scale(0.88,1)">TRIM59</text>
<text x="0.00" y="0.00" font-size="8.3" text-anchor="middle" font-weight="normal" fill="#2a2a2a" transform="translate(93.40,359.87) scale(0.8,1)">0.09</text>
<text x="0.00" y="0.00" font-size="8.3" text-anchor="middle" font-weight="normal" fill="#2a2a2a" transform="translate(147.00,359.87) scale(0.8,1)">-0.12</text>
<text x="0.00" y="0.00" font-size="8.3" text-anchor="middle" font-weight="normal" fill="#2a2a2a" transform="translate(200.60,359.87) scale(0.8,1)">-0.14</text>
<text x="0.00" y="0.00" font-size="8.3" text-anchor="middle" font-weight="normal" fill="#2a2a2a" transform="translate(254.20,359.87) scale(0.8,1)">0.18</text>
<text x="0.00" y="0.00" font-size="8.3" text-anchor="middle" font-weight="normal" fill="#2a2a2a" transform="translate(307.80,359.87) scale(0.8,1)">0.09</text>
<text x="0.00" y="0.00" font-size="7.3" text-anchor="start" font-weight="normal" fill="#3a3a3a" stroke="#3a3a3a" stroke-width="0.1" transform="translate(339.00,359.91) scale(0.88,1)">PLG</text>
<text x="0.00" y="0.00" font-size="8.3" text-anchor="middle" font-weight="normal" fill="#2a2a2a" transform="translate(93.40,369.75) scale(0.8,1)">0.12</text>
<text x="0.00" y="0.00" font-size="8.3" text-anchor="middle" font-weight="normal" fill="#2a2a2a" transform="translate(147.00,369.75) scale(0.8,1)">-0.01</text>
<text x="0.00" y="0.00" font-size="8.3" text-anchor="middle" font-weight="normal" fill="#2a2a2a" transform="translate(200.60,369.75) scale(0.8,1)">-0.15</text>
<text x="0.00" y="0.00" font-size="8.3" text-anchor="middle" font-weight="normal" fill="#2a2a2a" transform="translate(254.20,369.75) scale(0.8,1)">0.30</text>
<text x="0.00" y="0.00" font-size="8.3" text-anchor="middle" font-weight="normal" fill="#2a2a2a" transform="translate(307.80,369.75) scale(0.8,1)">-0.03</text>
<text x="0.00" y="0.00" font-size="7.3" text-anchor="start" font-weight="normal" fill="#3a3a3a" stroke="#3a3a3a" stroke-width="0.1" transform="translate(339.00,369.79) scale(0.88,1)">MRPS14</text>
<path d="M94.4,58.4V42.4H174.2V53.5" fill="none" stroke="#686868" stroke-width="1.15" stroke-linejoin="miter" stroke-linecap="square"/>
<path d="M147.6,58.4V53.5H201.0V58.4" fill="none" stroke="#686868" stroke-width="1.15" stroke-linejoin="miter" stroke-linecap="square"/>
<path d="M134.0,42.4V1.2H281.8V27.7" fill="none" stroke="#686868" stroke-width="1.15" stroke-linejoin="miter" stroke-linecap="square"/>
<path d="M255.1,58.4V27.7H308.5V58.4" fill="none" stroke="#686868" stroke-width="1.15" stroke-linejoin="miter" stroke-linecap="square"/>
<line x1="94.40" y1="69.60" x2="94.40" y2="74.70" stroke="#686868" stroke-width="1.15"/>
<line x1="147.60" y1="69.60" x2="147.60" y2="74.70" stroke="#686868" stroke-width="1.15"/>
<line x1="200.80" y1="69.60" x2="200.80" y2="74.70" stroke="#686868" stroke-width="1.15"/>
<line x1="255.10" y1="69.60" x2="255.10" y2="74.70" stroke="#686868" stroke-width="1.15"/>
<line x1="308.30" y1="69.60" x2="308.30" y2="74.70" stroke="#686868" stroke-width="1.15"/>
<rect x="75.80" y="58.40" width="31.70" height="11.20" fill="#fff" stroke="#9c9c9c" stroke-width="1"/>
<text x="0.00" y="0.00" font-size="7.8" text-anchor="middle" font-weight="bold" fill="#111" transform="translate(91.65,66.26) scale(0.86,1)">ASMs</text>
<rect x="128.00" y="58.40" width="31.70" height="11.20" fill="#fff" stroke="#9c9c9c" stroke-width="1"/>
<text x="0.00" y="0.00" font-size="7.8" text-anchor="middle" font-weight="bold" fill="#111" transform="translate(143.85,66.26) scale(0.86,1)">NECs</text>
<rect x="185.40" y="58.40" width="31.20" height="11.20" fill="#fff" stroke="#9c9c9c" stroke-width="1"/>
<text x="0.00" y="0.00" font-size="7.8" text-anchor="middle" font-weight="bold" fill="#111" transform="translate(201.00,66.26) scale(0.86,1)">WB</text>
<rect x="237.70" y="58.40" width="31.60" height="11.20" fill="#fff" stroke="#9c9c9c" stroke-width="1"/>
<text x="0.00" y="0.00" font-size="7.8" text-anchor="middle" font-weight="bold" fill="#111" transform="translate(253.50,66.26) scale(0.86,1)">AECs</text>
<rect x="289.70" y="58.40" width="31.90" height="11.20" fill="#fff" stroke="#9c9c9c" stroke-width="1"/>
<text x="0.00" y="0.00" font-size="7.8" text-anchor="middle" font-weight="bold" fill="#111" transform="translate(305.65,66.26) scale(0.86,1)">BECs</text>
<path d="M67.60,89.52H59.00V99.39H67.60" fill="none" stroke="#686868" stroke-width="1.15" stroke-linejoin="miter" stroke-linecap="square"/>
<path d="M67.60,79.64H46.70V94.45H59.00" fill="none" stroke="#686868" stroke-width="1.15" stroke-linejoin="miter" stroke-linecap="square"/>
<path d="M67.60,109.27H55.80V119.15H67.60" fill="none" stroke="#686868" stroke-width="1.15" stroke-linejoin="miter" stroke-linecap="square"/>
<path d="M67.60,148.78H63.80V158.65H67.60" fill="none" stroke="#686868" stroke-width="1.15" stroke-linejoin="miter" stroke-linecap="square"/>
<path d="M67.60,138.90H56.60V153.71H63.80" fill="none" stroke="#686868" stroke-width="1.15" stroke-linejoin="miter" stroke-linecap="square"/>
<path d="M67.60,129.02H50.20V146.31H56.60" fill="none" stroke="#686868" stroke-width="1.15" stroke-linejoin="miter" stroke-linecap="square"/>
<path d="M55.80,114.21H43.40V137.66H50.20" fill="none" stroke="#686868" stroke-width="1.15" stroke-linejoin="miter" stroke-linecap="square"/>
<path d="M67.60,168.53H61.40V178.41H67.60" fill="none" stroke="#686868" stroke-width="1.15" stroke-linejoin="miter" stroke-linecap="square"/>
<path d="M67.60,188.28H63.00V198.16H67.60" fill="none" stroke="#686868" stroke-width="1.15" stroke-linejoin="miter" stroke-linecap="square"/>
<path d="M67.60,208.04H63.00V217.91H67.60" fill="none" stroke="#686868" stroke-width="1.15" stroke-linejoin="miter" stroke-linecap="square"/>
<path d="M63.00,193.22H59.30V212.97H63.00" fill="none" stroke="#686868" stroke-width="1.15" stroke-linejoin="miter" stroke-linecap="square"/>
<path d="M61.40,173.47H52.60V203.10H59.30" fill="none" stroke="#686868" stroke-width="1.15" stroke-linejoin="miter" stroke-linecap="square"/>
<path d="M67.60,257.42H65.90V267.30H67.60" fill="none" stroke="#686868" stroke-width="1.15" stroke-linejoin="miter" stroke-linecap="square"/>
<path d="M67.60,247.54H62.70V262.36H65.90" fill="none" stroke="#686868" stroke-width="1.15" stroke-linejoin="miter" stroke-linecap="square"/>
<path d="M67.60,237.67H61.90V254.95H62.70" fill="none" stroke="#686868" stroke-width="1.15" stroke-linejoin="miter" stroke-linecap="square"/>
<path d="M67.60,277.17H63.50V287.05H67.60" fill="none" stroke="#686868" stroke-width="1.15" stroke-linejoin="miter" stroke-linecap="square"/>
<path d="M67.60,306.80H66.20V316.68H67.60" fill="none" stroke="#686868" stroke-width="1.15" stroke-linejoin="miter" stroke-linecap="square"/>
<path d="M67.60,296.93H65.40V311.74H66.20" fill="none" stroke="#686868" stroke-width="1.15" stroke-linejoin="miter" stroke-linecap="square"/>
<path d="M67.60,326.56H65.10V336.43H67.60" fill="none" stroke="#686868" stroke-width="1.15" stroke-linejoin="miter" stroke-linecap="square"/>
<path d="M65.40,304.33H64.00V331.49H65.10" fill="none" stroke="#686868" stroke-width="1.15" stroke-linejoin="miter" stroke-linecap="square"/>
<path d="M67.60,356.19H64.20V366.06H67.60" fill="none" stroke="#686868" stroke-width="1.15" stroke-linejoin="miter" stroke-linecap="square"/>
<path d="M67.60,346.31H63.30V361.12H64.20" fill="none" stroke="#686868" stroke-width="1.15" stroke-linejoin="miter" stroke-linecap="square"/>
<path d="M64.00,317.91H61.50V353.72H63.30" fill="none" stroke="#686868" stroke-width="1.15" stroke-linejoin="miter" stroke-linecap="square"/>
<path d="M63.50,282.11H59.20V335.81H61.50" fill="none" stroke="#686868" stroke-width="1.15" stroke-linejoin="miter" stroke-linecap="square"/>
<path d="M61.90,246.31H58.30V308.96H59.20" fill="none" stroke="#686868" stroke-width="1.15" stroke-linejoin="miter" stroke-linecap="square"/>
<path d="M67.60,227.79H49.40V277.63H58.30" fill="none" stroke="#686868" stroke-width="1.15" stroke-linejoin="miter" stroke-linecap="square"/>
<path d="M52.60,188.28H39.90V252.71H49.40" fill="none" stroke="#686868" stroke-width="1.15" stroke-linejoin="miter" stroke-linecap="square"/>
<path d="M43.40,125.94H26.30V220.50H39.90" fill="none" stroke="#686868" stroke-width="1.15" stroke-linejoin="miter" stroke-linecap="square"/>
<path d="M46.70,87.05H1.30V173.22H26.30" fill="none" stroke="#686868" stroke-width="1.15" stroke-linejoin="miter" stroke-linecap="square"/>
<defs><linearGradient id="gl" x1="0" y1="1" x2="0" y2="0"><stop offset="0.0000" stop-color="#4575b4"/><stop offset="0.1667" stop-color="#91bfdb"/><stop offset="0.3333" stop-color="#e0f3f8"/><stop offset="0.5000" stop-color="#ffffbf"/><stop offset="0.6667" stop-color="#fee090"/><stop offset="0.8333" stop-color="#fc8d59"/><stop offset="1.0000" stop-color="#d73027"/></linearGradient><linearGradient id="gr" x1="0" y1="1" x2="0" y2="0"><stop offset="0.0000" stop-color="#4575b4"/><stop offset="0.1667" stop-color="#91bfdb"/><stop offset="0.3333" stop-color="#e0f3f8"/><stop offset="0.5000" stop-color="#ffffbf"/><stop offset="0.6667" stop-color="#fee090"/><stop offset="0.8333" stop-color="#fc8d59"/><stop offset="1.0000" stop-color="#d73027"/></linearGradient></defs>
<rect x="380.0" y="74.8" width="12.7" height="208.9" fill="url(#gl)"/>
<text x="0.00" y="0.00" font-size="7.3" text-anchor="start" font-weight="bold" fill="#111" transform="translate(375.30,68.00) scale(0.92,1)">Log(FC)</text>
<text x="0.00" y="0.00" font-size="6.9" text-anchor="start" font-weight="normal" fill="#333" transform="translate(397.90,88.30) scale(0.93,1)">2</text>
<text x="0.00" y="0.00" font-size="6.9" text-anchor="start" font-weight="normal" fill="#333" transform="translate(397.90,116.60) scale(0.93,1)">1.5</text>
<text x="0.00" y="0.00" font-size="6.9" text-anchor="start" font-weight="normal" fill="#333" transform="translate(397.90,144.00) scale(0.93,1)">1</text>
<text x="0.00" y="0.00" font-size="6.9" text-anchor="start" font-weight="normal" fill="#333" transform="translate(397.90,172.60) scale(0.93,1)">0.5</text>
<text x="0.00" y="0.00" font-size="6.9" text-anchor="start" font-weight="normal" fill="#333" transform="translate(397.90,200.90) scale(0.93,1)">0</text>
<text x="0.00" y="0.00" font-size="6.9" text-anchor="start" font-weight="normal" fill="#333" transform="translate(397.90,229.30) scale(0.93,1)">-0.5</text>
<text x="0.00" y="0.00" font-size="6.9" text-anchor="start" font-weight="normal" fill="#333" transform="translate(397.90,256.90) scale(0.93,1)">-1</text>
<text x="0.00" y="0.00" font-size="6.9" text-anchor="start" font-weight="normal" fill="#333" transform="translate(397.90,285.20) scale(0.93,1)">-1.5</text>
<rect x="492.60" y="71.30" width="44.88" height="8.89" fill="#4575b4"/>
<rect x="537.48" y="71.30" width="44.88" height="8.89" fill="#a3cbe2"/>
<rect x="582.36" y="71.30" width="44.88" height="8.89" fill="#7aa9cf"/>
<rect x="627.24" y="71.30" width="44.88" height="8.89" fill="#def2f7"/>
<rect x="672.12" y="71.30" width="44.88" height="8.89" fill="#4878b6"/>
<rect x="492.60" y="80.19" width="44.88" height="8.89" fill="#d1e9f2"/>
<rect x="537.48" y="80.19" width="44.88" height="8.89" fill="#e3f4f3"/>
<rect x="582.36" y="80.19" width="44.88" height="8.89" fill="#d1e9f2"/>
<rect x="627.24" y="80.19" width="44.88" height="8.89" fill="#e4f5f0"/>
<rect x="672.12" y="80.19" width="44.88" height="8.89" fill="#a3cbe2"/>
<rect x="492.60" y="89.07" width="44.88" height="8.89" fill="#bddceb"/>
<rect x="537.48" y="89.07" width="44.88" height="8.89" fill="#e9f7e7"/>
<rect x="582.36" y="89.07" width="44.88" height="8.89" fill="#cee7f1"/>
<rect x="627.24" y="89.07" width="44.88" height="8.89" fill="#eef9dd"/>
<rect x="672.12" y="89.07" width="44.88" height="8.89" fill="#add2e5"/>
<rect x="492.60" y="97.96" width="44.88" height="8.89" fill="#b7d8e9"/>
<rect x="537.48" y="97.96" width="44.88" height="8.89" fill="#c4e0ee"/>
<rect x="582.36" y="97.96" width="44.88" height="8.89" fill="#bddceb"/>
<rect x="627.24" y="97.96" width="44.88" height="8.89" fill="#dbeff6"/>
<rect x="672.12" y="97.96" width="44.88" height="8.89" fill="#6a99c7"/>
<rect x="492.60" y="106.84" width="44.88" height="8.89" fill="#e4f5f0"/>
<rect x="537.48" y="106.84" width="44.88" height="8.89" fill="#e7f6ec"/>
<rect x="582.36" y="106.84" width="44.88" height="8.89" fill="#d7edf5"/>
<rect x="627.24" y="106.84" width="44.88" height="8.89" fill="#c4e0ee"/>
<rect x="672.12" y="106.84" width="44.88" height="8.89" fill="#8ab8d7"/>
<rect x="492.60" y="115.73" width="44.88" height="8.89" fill="#cee7f1"/>
<rect x="537.48" y="115.73" width="44.88" height="8.89" fill="#e0f3f7"/>
<rect x="582.36" y="115.73" width="44.88" height="8.89" fill="#e0f3f7"/>
<rect x="627.24" y="115.73" width="44.88" height="8.89" fill="#add2e5"/>
<rect x="672.12" y="115.73" width="44.88" height="8.89" fill="#5584bc"/>
<rect x="492.60" y="124.61" width="44.88" height="8.89" fill="#fcfec4"/>
<rect x="537.48" y="124.61" width="44.88" height="8.89" fill="#dbeff6"/>
<rect x="582.36" y="124.61" width="44.88" height="8.89" fill="#7aa9cf"/>
<rect x="627.24" y="124.61" width="44.88" height="8.89" fill="#ffffbf"/>
<rect x="672.12" y="124.61" width="44.88" height="8.89" fill="#f1fad9"/>
<rect x="492.60" y="133.50" width="44.88" height="8.89" fill="#5887be"/>
<rect x="537.48" y="133.50" width="44.88" height="8.89" fill="#96c3dd"/>
<rect x="582.36" y="133.50" width="44.88" height="8.89" fill="#6e9dc9"/>
<rect x="627.24" y="133.50" width="44.88" height="8.89" fill="#b0d4e7"/>
<rect x="672.12" y="133.50" width="44.88" height="8.89" fill="#e6f5ee"/>
<rect x="492.60" y="142.38" width="44.88" height="8.89" fill="#c4e0ee"/>
<rect x="537.48" y="142.38" width="44.88" height="8.89" fill="#add2e5"/>
<rect x="582.36" y="142.38" width="44.88" height="8.89" fill="#7dacd1"/>
<rect x="627.24" y="142.38" width="44.88" height="8.89" fill="#e8f6e9"/>
<rect x="672.12" y="142.38" width="44.88" height="8.89" fill="#eef9dd"/>
<rect x="492.60" y="151.27" width="44.88" height="8.89" fill="#a0c9e1"/>
<rect x="537.48" y="151.27" width="44.88" height="8.89" fill="#badaea"/>
<rect x="582.36" y="151.27" width="44.88" height="8.89" fill="#add2e5"/>
<rect x="627.24" y="151.27" width="44.88" height="8.89" fill="#def2f7"/>
<rect x="672.12" y="151.27" width="44.88" height="8.89" fill="#e3f4f3"/>
<rect x="492.60" y="160.15" width="44.88" height="8.89" fill="#badaea"/>
<rect x="537.48" y="160.15" width="44.88" height="8.89" fill="#badaea"/>
<rect x="582.36" y="160.15" width="44.88" height="8.89" fill="#83b2d4"/>
<rect x="627.24" y="160.15" width="44.88" height="8.89" fill="#c1deec"/>
<rect x="672.12" y="160.15" width="44.88" height="8.89" fill="#e3f4f3"/>
<rect x="492.60" y="169.04" width="44.88" height="8.89" fill="#def2f7"/>
<rect x="537.48" y="169.04" width="44.88" height="8.89" fill="#b0d4e7"/>
<rect x="582.36" y="169.04" width="44.88" height="8.89" fill="#9ac5de"/>
<rect x="627.24" y="169.04" width="44.88" height="8.89" fill="#def2f7"/>
<rect x="672.12" y="169.04" width="44.88" height="8.89" fill="#c1deec"/>
<rect x="492.60" y="177.92" width="44.88" height="8.89" fill="#d1e9f2"/>
<rect x="537.48" y="177.92" width="44.88" height="8.89" fill="#add2e5"/>
<rect x="582.36" y="177.92" width="44.88" height="8.89" fill="#d4ebf4"/>
<rect x="627.24" y="177.92" width="44.88" height="8.89" fill="#b4d6e8"/>
<rect x="672.12" y="177.92" width="44.88" height="8.89" fill="#b4d6e8"/>
<rect x="492.60" y="186.81" width="44.88" height="8.89" fill="#c4e0ee"/>
<rect x="537.48" y="186.81" width="44.88" height="8.89" fill="#bddceb"/>
<rect x="582.36" y="186.81" width="44.88" height="8.89" fill="#bddceb"/>
<rect x="627.24" y="186.81" width="44.88" height="8.89" fill="#c7e3ef"/>
<rect x="672.12" y="186.81" width="44.88" height="8.89" fill="#bddceb"/>
<rect x="492.60" y="195.69" width="44.88" height="8.89" fill="#c7e3ef"/>
<rect x="537.48" y="195.69" width="44.88" height="8.89" fill="#c1deec"/>
<rect x="582.36" y="195.69" width="44.88" height="8.89" fill="#d7edf5"/>
<rect x="627.24" y="195.69" width="44.88" height="8.89" fill="#e0f3f7"/>
<rect x="672.12" y="195.69" width="44.88" height="8.89" fill="#eef9dd"/>
<rect x="492.60" y="204.58" width="44.88" height="8.89" fill="#cee7f1"/>
<rect x="537.48" y="204.58" width="44.88" height="8.89" fill="#c1deec"/>
<rect x="582.36" y="204.58" width="44.88" height="8.89" fill="#ebf7e4"/>
<rect x="627.24" y="204.58" width="44.88" height="8.89" fill="#b7d8e9"/>
<rect x="672.12" y="204.58" width="44.88" height="8.89" fill="#e2f4f5"/>
<rect x="492.60" y="213.46" width="44.88" height="8.89" fill="#e2f4f5"/>
<rect x="537.48" y="213.46" width="44.88" height="8.89" fill="#dbeff6"/>
<rect x="582.36" y="213.46" width="44.88" height="8.89" fill="#d4ebf4"/>
<rect x="627.24" y="213.46" width="44.88" height="8.89" fill="#a3cbe2"/>
<rect x="672.12" y="213.46" width="44.88" height="8.89" fill="#ecf8e2"/>
<rect x="492.60" y="222.35" width="44.88" height="8.89" fill="#d1e9f2"/>
<rect x="537.48" y="222.35" width="44.88" height="8.89" fill="#def2f7"/>
<rect x="582.36" y="222.35" width="44.88" height="8.89" fill="#cae5f0"/>
<rect x="627.24" y="222.35" width="44.88" height="8.89" fill="#a3cbe2"/>
<rect x="672.12" y="222.35" width="44.88" height="8.89" fill="#d7edf5"/>
<rect x="492.60" y="231.24" width="44.88" height="8.89" fill="#c7e3ef"/>
<rect x="537.48" y="231.24" width="44.88" height="8.89" fill="#d7edf5"/>
<rect x="582.36" y="231.24" width="44.88" height="8.89" fill="#80afd2"/>
<rect x="627.24" y="231.24" width="44.88" height="8.89" fill="#6190c2"/>
<rect x="672.12" y="231.24" width="44.88" height="8.89" fill="#b0d4e7"/>
<rect x="492.60" y="240.12" width="44.88" height="8.89" fill="#badaea"/>
<rect x="537.48" y="240.12" width="44.88" height="8.89" fill="#9dc7df"/>
<rect x="582.36" y="240.12" width="44.88" height="8.89" fill="#add2e5"/>
<rect x="627.24" y="240.12" width="44.88" height="8.89" fill="#87b5d6"/>
<rect x="672.12" y="240.12" width="44.88" height="8.89" fill="#edf8e0"/>
<rect x="492.60" y="249.01" width="44.88" height="8.89" fill="#c7e3ef"/>
<rect x="537.48" y="249.01" width="44.88" height="8.89" fill="#a3cbe2"/>
<rect x="582.36" y="249.01" width="44.88" height="8.89" fill="#e8f6e9"/>
<rect x="627.24" y="249.01" width="44.88" height="8.89" fill="#77a6ce"/>
<rect x="672.12" y="249.01" width="44.88" height="8.89" fill="#e3f4f3"/>
<rect x="492.60" y="257.89" width="44.88" height="8.89" fill="#cee7f1"/>
<rect x="537.48" y="257.89" width="44.88" height="8.89" fill="#e2f4f5"/>
<rect x="582.36" y="257.89" width="44.88" height="8.89" fill="#fffbb9"/>
<rect x="627.24" y="257.89" width="44.88" height="8.89" fill="#6493c4"/>
<rect x="672.12" y="257.89" width="44.88" height="8.89" fill="#f1fad9"/>
<rect x="492.60" y="266.78" width="44.88" height="8.89" fill="#d1e9f2"/>
<rect x="537.48" y="266.78" width="44.88" height="8.89" fill="#fff2ac"/>
<rect x="582.36" y="266.78" width="44.88" height="8.89" fill="#fff5b0"/>
<rect x="627.24" y="266.78" width="44.88" height="8.89" fill="#c1deec"/>
<rect x="672.12" y="266.78" width="44.88" height="8.89" fill="#cee7f1"/>
<rect x="492.60" y="275.66" width="44.88" height="8.89" fill="#ffffbf"/>
<rect x="537.48" y="275.66" width="44.88" height="8.89" fill="#ebf7e4"/>
<rect x="582.36" y="275.66" width="44.88" height="8.89" fill="#c1deec"/>
<rect x="627.24" y="275.66" width="44.88" height="8.89" fill="#ecf8e2"/>
<rect x="672.12" y="275.66" width="44.88" height="8.89" fill="#fffebd"/>
<rect x="492.60" y="284.55" width="44.88" height="8.89" fill="#fffebd"/>
<rect x="537.48" y="284.55" width="44.88" height="8.89" fill="#f7fccd"/>
<rect x="582.36" y="284.55" width="44.88" height="8.89" fill="#f6fccf"/>
<rect x="627.24" y="284.55" width="44.88" height="8.89" fill="#e7f6ec"/>
<rect x="672.12" y="284.55" width="44.88" height="8.89" fill="#fffbb9"/>
<rect x="492.60" y="293.43" width="44.88" height="8.89" fill="#f6fccf"/>
<rect x="537.48" y="293.43" width="44.88" height="8.89" fill="#e2f4f5"/>
<rect x="582.36" y="293.43" width="44.88" height="8.89" fill="#e8f6e9"/>
<rect x="627.24" y="293.43" width="44.88" height="8.89" fill="#cee7f1"/>
<rect x="672.12" y="293.43" width="44.88" height="8.89" fill="#e3f4f3"/>
<rect x="492.60" y="302.32" width="44.88" height="8.89" fill="#f7fccd"/>
<rect x="537.48" y="302.32" width="44.88" height="8.89" fill="#d7edf5"/>
<rect x="582.36" y="302.32" width="44.88" height="8.89" fill="#e8f6e9"/>
<rect x="627.24" y="302.32" width="44.88" height="8.89" fill="#d1e9f2"/>
<rect x="672.12" y="302.32" width="44.88" height="8.89" fill="#cae5f0"/>
<rect x="492.60" y="311.20" width="44.88" height="8.89" fill="#e8f6e9"/>
<rect x="537.48" y="311.20" width="44.88" height="8.89" fill="#e4f5f0"/>
<rect x="582.36" y="311.20" width="44.88" height="8.89" fill="#f6fccf"/>
<rect x="627.24" y="311.20" width="44.88" height="8.89" fill="#c7e3ef"/>
<rect x="672.12" y="311.20" width="44.88" height="8.89" fill="#cae5f0"/>
<rect x="492.60" y="320.09" width="44.88" height="8.89" fill="#e7f6ec"/>
<rect x="537.48" y="320.09" width="44.88" height="8.89" fill="#ebf7e4"/>
<rect x="582.36" y="320.09" width="44.88" height="8.89" fill="#e3f4f3"/>
<rect x="627.24" y="320.09" width="44.88" height="8.89" fill="#cee7f1"/>
<rect x="672.12" y="320.09" width="44.88" height="8.89" fill="#e0f3f7"/>
<rect x="492.60" y="328.97" width="44.88" height="8.89" fill="#feeba0"/>
<rect x="537.48" y="328.97" width="44.88" height="8.89" fill="#d4ebf4"/>
<rect x="582.36" y="328.97" width="44.88" height="8.89" fill="#eef9dd"/>
<rect x="627.24" y="328.97" width="44.88" height="8.89" fill="#8dbbd9"/>
<rect x="672.12" y="328.97" width="44.88" height="8.89" fill="#e6f5ee"/>
<rect x="492.60" y="337.86" width="44.88" height="8.89" fill="#fff7b3"/>
<rect x="537.48" y="337.86" width="44.88" height="8.89" fill="#e6f5ee"/>
<rect x="582.36" y="337.86" width="44.88" height="8.89" fill="#f7fccd"/>
<rect x="627.24" y="337.86" width="44.88" height="8.89" fill="#b7d8e9"/>
<rect x="672.12" y="337.86" width="44.88" height="8.89" fill="#a7cde3"/>
<rect x="492.60" y="346.74" width="44.88" height="8.89" fill="#d73027"/>
<rect x="537.48" y="346.74" width="44.88" height="8.89" fill="#fff9b5"/>
<rect x="582.36" y="346.74" width="44.88" height="8.89" fill="#fdbf7a"/>
<rect x="627.24" y="346.74" width="44.88" height="8.89" fill="#d4ebf4"/>
<rect x="672.12" y="346.74" width="44.88" height="8.89" fill="#e4f5f0"/>
<rect x="492.60" y="355.63" width="44.88" height="8.89" fill="#fed78a"/>
<rect x="537.48" y="355.63" width="44.88" height="8.89" fill="#feeda4"/>
<rect x="582.36" y="355.63" width="44.88" height="8.89" fill="#fda468"/>
<rect x="627.24" y="355.63" width="44.88" height="8.89" fill="#e3f4f3"/>
<rect x="672.12" y="355.63" width="44.88" height="8.89" fill="#b0d4e7"/>
<rect x="492.60" y="364.51" width="44.88" height="8.89" fill="#fff7b3"/>
<rect x="537.48" y="364.51" width="44.88" height="8.89" fill="#ebf7e4"/>
<rect x="582.36" y="364.51" width="44.88" height="8.89" fill="#fdc67f"/>
<rect x="627.24" y="364.51" width="44.88" height="8.89" fill="#e2f4f5"/>
<rect x="672.12" y="364.51" width="44.88" height="8.89" fill="#bddceb"/>
<line x1="492.60" y1="71.30" x2="717.00" y2="71.30" stroke="#bababa" stroke-width="1"/>
<line x1="492.60" y1="80.19" x2="717.00" y2="80.19" stroke="#bababa" stroke-width="1"/>
<line x1="492.60" y1="89.07" x2="717.00" y2="89.07" stroke="#bababa" stroke-width="1"/>
<line x1="492.60" y1="97.96" x2="717.00" y2="97.96" stroke="#bababa" stroke-width="1"/>
<line x1="492.60" y1="106.84" x2="717.00" y2="106.84" stroke="#bababa" stroke-width="1"/>
<line x1="492.60" y1="115.73" x2="717.00" y2="115.73" stroke="#bababa" stroke-width="1"/>
<line x1="492.60" y1="124.61" x2="717.00" y2="124.61" stroke="#bababa" stroke-width="1"/>
<line x1="492.60" y1="133.50" x2="717.00" y2="133.50" stroke="#bababa" stroke-width="1"/>
<line x1="492.60" y1="142.38" x2="717.00" y2="142.38" stroke="#bababa" stroke-width="1"/>
<line x1="492.60" y1="151.27" x2="717.00" y2="151.27" stroke="#bababa" stroke-width="1"/>
<line x1="492.60" y1="160.15" x2="717.00" y2="160.15" stroke="#bababa" stroke-width="1"/>
<line x1="492.60" y1="169.04" x2="717.00" y2="169.04" stroke="#bababa" stroke-width="1"/>
<line x1="492.60" y1="177.92" x2="717.00" y2="177.92" stroke="#bababa" stroke-width="1"/>
<line x1="492.60" y1="186.81" x2="717.00" y2="186.81" stroke="#bababa" stroke-width="1"/>
<line x1="492.60" y1="195.69" x2="717.00" y2="195.69" stroke="#bababa" stroke-width="1"/>
<line x1="492.60" y1="204.58" x2="717.00" y2="204.58" stroke="#bababa" stroke-width="1"/>
<line x1="492.60" y1="213.46" x2="717.00" y2="213.46" stroke="#bababa" stroke-width="1"/>
<line x1="492.60" y1="222.35" x2="717.00" y2="222.35" stroke="#bababa" stroke-width="1"/>
<line x1="492.60" y1="231.24" x2="717.00" y2="231.24" stroke="#bababa" stroke-width="1"/>
<line x1="492.60" y1="240.12" x2="717.00" y2="240.12" stroke="#bababa" stroke-width="1"/>
<line x1="492.60" y1="249.01" x2="717.00" y2="249.01" stroke="#bababa" stroke-width="1"/>
<line x1="492.60" y1="257.89" x2="717.00" y2="257.89" stroke="#bababa" stroke-width="1"/>
<line x1="492.60" y1="266.78" x2="717.00" y2="266.78" stroke="#bababa" stroke-width="1"/>
<line x1="492.60" y1="275.66" x2="717.00" y2="275.66" stroke="#bababa" stroke-width="1"/>
<line x1="492.60" y1="284.55" x2="717.00" y2="284.55" stroke="#bababa" stroke-width="1"/>
<line x1="492.60" y1="293.43" x2="717.00" y2="293.43" stroke="#bababa" stroke-width="1"/>
<line x1="492.60" y1="302.32" x2="717.00" y2="302.32" stroke="#bababa" stroke-width="1"/>
<line x1="492.60" y1="311.20" x2="717.00" y2="311.20" stroke="#bababa" stroke-width="1"/>
<line x1="492.60" y1="320.09" x2="717.00" y2="320.09" stroke="#bababa" stroke-width="1"/>
<line x1="492.60" y1="328.97" x2="717.00" y2="328.97" stroke="#bababa" stroke-width="1"/>
<line x1="492.60" y1="337.86" x2="717.00" y2="337.86" stroke="#bababa" stroke-width="1"/>
<line x1="492.60" y1="346.74" x2="717.00" y2="346.74" stroke="#bababa" stroke-width="1"/>
<line x1="492.60" y1="355.63" x2="717.00" y2="355.63" stroke="#bababa" stroke-width="1"/>
<line x1="492.60" y1="364.51" x2="717.00" y2="364.51" stroke="#bababa" stroke-width="1"/>
<line x1="492.60" y1="373.40" x2="717.00" y2="373.40" stroke="#bababa" stroke-width="1"/>
<line x1="492.60" y1="71.30" x2="492.60" y2="373.40" stroke="#bababa" stroke-width="1"/>
<line x1="537.48" y1="71.30" x2="537.48" y2="373.40" stroke="#bababa" stroke-width="1"/>
<line x1="582.36" y1="71.30" x2="582.36" y2="373.40" stroke="#bababa" stroke-width="1"/>
<line x1="627.24" y1="71.30" x2="627.24" y2="373.40" stroke="#bababa" stroke-width="1"/>
<line x1="672.12" y1="71.30" x2="672.12" y2="373.40" stroke="#bababa" stroke-width="1"/>
<line x1="717.00" y1="71.30" x2="717.00" y2="373.40" stroke="#bababa" stroke-width="1"/>
<text x="0.00" y="0.00" font-size="8.3" text-anchor="middle" font-weight="normal" fill="#2a2a2a" transform="translate(514.74,79.43) scale(0.82,1)">-0.43</text>
<text x="0.00" y="0.00" font-size="8.3" text-anchor="middle" font-weight="normal" fill="#2a2a2a" transform="translate(559.62,79.43) scale(0.82,1)">-0.13</text>
<text x="0.00" y="0.00" font-size="8.3" text-anchor="middle" font-weight="normal" fill="#2a2a2a" transform="translate(604.50,79.43) scale(0.82,1)">-0.26</text>
<text x="0.00" y="0.00" font-size="8.3" text-anchor="middle" font-weight="normal" fill="#2a2a2a" transform="translate(649.38,79.43) scale(0.82,1)">0.05</text>
<text x="0.00" y="0.00" font-size="8.3" text-anchor="middle" font-weight="normal" fill="#2a2a2a" transform="translate(694.26,79.43) scale(0.82,1)">-0.42</text>
<text x="0.00" y="0.00" font-size="7.3" text-anchor="start" font-weight="normal" fill="#3a3a3a" stroke="#3a3a3a" stroke-width="0.1" transform="translate(721.00,78.57) scale(0.905,1)">STEAP2</text>
<text x="0.00" y="0.00" font-size="8.3" text-anchor="middle" font-weight="normal" fill="#2a2a2a" transform="translate(514.74,88.32) scale(0.82,1)">0.01</text>
<text x="0.00" y="0.00" font-size="8.3" text-anchor="middle" font-weight="normal" fill="#2a2a2a" transform="translate(559.62,88.32) scale(0.82,1)">0.08</text>
<text x="0.00" y="0.00" font-size="8.3" text-anchor="middle" font-weight="normal" fill="#2a2a2a" transform="translate(604.50,88.32) scale(0.82,1)">0.01</text>
<text x="0.00" y="0.00" font-size="8.3" text-anchor="middle" font-weight="normal" fill="#2a2a2a" transform="translate(649.38,88.32) scale(0.82,1)">0.09</text>
<text x="0.00" y="0.00" font-size="8.3" text-anchor="middle" font-weight="normal" fill="#2a2a2a" transform="translate(694.26,88.32) scale(0.82,1)">-0.13</text>
<text x="0.00" y="0.00" font-size="7.3" text-anchor="start" font-weight="normal" fill="#3a3a3a" stroke="#3a3a3a" stroke-width="0.1" transform="translate(721.00,87.46) scale(0.905,1)">HS1BP3</text>
<text x="0.00" y="0.00" font-size="8.3" text-anchor="middle" font-weight="normal" fill="#2a2a2a" transform="translate(514.74,97.20) scale(0.82,1)">-0.05</text>
<text x="0.00" y="0.00" font-size="8.3" text-anchor="middle" font-weight="normal" fill="#2a2a2a" transform="translate(559.62,97.20) scale(0.82,1)">0.13</text>
<text x="0.00" y="0.00" font-size="8.3" text-anchor="middle" font-weight="normal" fill="#2a2a2a" transform="translate(604.50,97.20) scale(0.82,1)">0.00</text>
<text x="0.00" y="0.00" font-size="8.3" text-anchor="middle" font-weight="normal" fill="#2a2a2a" transform="translate(649.38,97.20) scale(0.82,1)">0.17</text>
<text x="0.00" y="0.00" font-size="8.3" text-anchor="middle" font-weight="normal" fill="#2a2a2a" transform="translate(694.26,97.20) scale(0.82,1)">-0.10</text>
<text x="0.00" y="0.00" font-size="7.3" text-anchor="start" font-weight="normal" fill="#3a3a3a" stroke="#3a3a3a" stroke-width="0.1" transform="translate(721.00,96.34) scale(0.905,1)">VDR</text>
<text x="0.00" y="0.00" font-size="8.3" text-anchor="middle" font-weight="normal" fill="#2a2a2a" transform="translate(514.74,106.09) scale(0.82,1)">-0.07</text>
<text x="0.00" y="0.00" font-size="8.3" text-anchor="middle" font-weight="normal" fill="#2a2a2a" transform="translate(559.62,106.09) scale(0.82,1)">-0.03</text>
<text x="0.00" y="0.00" font-size="8.3" text-anchor="middle" font-weight="normal" fill="#2a2a2a" transform="translate(604.50,106.09) scale(0.82,1)">-0.05</text>
<text x="0.00" y="0.00" font-size="8.3" text-anchor="middle" font-weight="normal" fill="#2a2a2a" transform="translate(649.38,106.09) scale(0.82,1)">0.04</text>
<text x="0.00" y="0.00" font-size="8.3" text-anchor="middle" font-weight="normal" fill="#2a2a2a" transform="translate(694.26,106.09) scale(0.82,1)">-0.31</text>
<text x="0.00" y="0.00" font-size="7.3" text-anchor="start" font-weight="normal" fill="#3a3a3a" stroke="#3a3a3a" stroke-width="0.1" transform="translate(721.00,105.23) scale(0.905,1)">SLC2A9</text>
<text x="0.00" y="0.00" font-size="8.3" text-anchor="middle" font-weight="normal" fill="#2a2a2a" transform="translate(514.74,114.97) scale(0.82,1)">0.09</text>
<text x="0.00" y="0.00" font-size="8.3" text-anchor="middle" font-weight="normal" fill="#2a2a2a" transform="translate(559.62,114.97) scale(0.82,1)">0.11</text>
<text x="0.00" y="0.00" font-size="8.3" text-anchor="middle" font-weight="normal" fill="#2a2a2a" transform="translate(604.50,114.97) scale(0.82,1)">0.03</text>
<text x="0.00" y="0.00" font-size="8.3" text-anchor="middle" font-weight="normal" fill="#2a2a2a" transform="translate(649.38,114.97) scale(0.82,1)">-0.03</text>
<text x="0.00" y="0.00" font-size="8.3" text-anchor="middle" font-weight="normal" fill="#2a2a2a" transform="translate(694.26,114.97) scale(0.82,1)">-0.21</text>
<text x="0.00" y="0.00" font-size="7.3" text-anchor="start" font-weight="normal" fill="#3a3a3a" stroke="#3a3a3a" stroke-width="0.1" transform="translate(721.00,114.11) scale(0.905,1)">PITX1</text>
<text x="0.00" y="0.00" font-size="8.3" text-anchor="middle" font-weight="normal" fill="#2a2a2a" transform="translate(514.74,123.86) scale(0.82,1)">0.00</text>
<text x="0.00" y="0.00" font-size="8.3" text-anchor="middle" font-weight="normal" fill="#2a2a2a" transform="translate(559.62,123.86) scale(0.82,1)">0.06</text>
<text x="0.00" y="0.00" font-size="8.3" text-anchor="middle" font-weight="normal" fill="#2a2a2a" transform="translate(604.50,123.86) scale(0.82,1)">0.06</text>
<text x="0.00" y="0.00" font-size="8.3" text-anchor="middle" font-weight="normal" fill="#2a2a2a" transform="translate(649.38,123.86) scale(0.82,1)">-0.10</text>
<text x="0.00" y="0.00" font-size="8.3" text-anchor="middle" font-weight="normal" fill="#2a2a2a" transform="translate(694.26,123.86) scale(0.82,1)">-0.38</text>
<text x="0.00" y="0.00" font-size="7.3" text-anchor="start" font-weight="normal" fill="#3a3a3a" stroke="#3a3a3a" stroke-width="0.1" transform="translate(721.00,123.00) scale(0.905,1)">PTMA</text>
<text x="0.00" y="0.00" font-size="8.3" text-anchor="middle" font-weight="normal" fill="#2a2a2a" transform="translate(514.74,132.74) scale(0.82,1)">0.28</text>
<text x="0.00" y="0.00" font-size="8.3" text-anchor="middle" font-weight="normal" fill="#2a2a2a" transform="translate(559.62,132.74) scale(0.82,1)">0.04</text>
<text x="0.00" y="0.00" font-size="8.3" text-anchor="middle" font-weight="normal" fill="#2a2a2a" transform="translate(604.50,132.74) scale(0.82,1)">-0.26</text>
<text x="0.00" y="0.00" font-size="8.3" text-anchor="middle" font-weight="normal" fill="#2a2a2a" transform="translate(649.38,132.74) scale(0.82,1)">0.30</text>
<text x="0.00" y="0.00" font-size="8.3" text-anchor="middle" font-weight="normal" fill="#2a2a2a" transform="translate(694.26,132.74) scale(0.82,1)">0.19</text>
<text x="0.00" y="0.00" font-size="7.3" text-anchor="start" font-weight="normal" fill="#3a3a3a" stroke="#3a3a3a" stroke-width="0.1" transform="translate(721.00,131.88) scale(0.905,1)">PLOD2</text>
<text x="0.00" y="0.00" font-size="8.3" text-anchor="middle" font-weight="normal" fill="#2a2a2a" transform="translate(514.74,141.63) scale(0.82,1)">-0.37</text>
<text x="0.00" y="0.00" font-size="8.3" text-anchor="middle" font-weight="normal" fill="#2a2a2a" transform="translate(559.62,141.63) scale(0.82,1)">-0.17</text>
<text x="0.00" y="0.00" font-size="8.3" text-anchor="middle" font-weight="normal" fill="#2a2a2a" transform="translate(604.50,141.63) scale(0.82,1)">-0.30</text>
<text x="0.00" y="0.00" font-size="8.3" text-anchor="middle" font-weight="normal" fill="#2a2a2a" transform="translate(649.38,141.63) scale(0.82,1)">-0.09</text>
<text x="0.00" y="0.00" font-size="8.3" text-anchor="middle" font-weight="normal" fill="#2a2a2a" transform="translate(694.26,141.63) scale(0.82,1)">0.10</text>
<text x="0.00" y="0.00" font-size="7.3" text-anchor="start" font-weight="normal" fill="#3a3a3a" stroke="#3a3a3a" stroke-width="0.1" transform="translate(721.00,140.77) scale(0.905,1)">DPYSL2</text>
<text x="0.00" y="0.00" font-size="8.3" text-anchor="middle" font-weight="normal" fill="#2a2a2a" transform="translate(514.74,150.51) scale(0.82,1)">-0.03</text>
<text x="0.00" y="0.00" font-size="8.3" text-anchor="middle" font-weight="normal" fill="#2a2a2a" transform="translate(559.62,150.51) scale(0.82,1)">-0.10</text>
<text x="0.00" y="0.00" font-size="8.3" text-anchor="middle" font-weight="normal" fill="#2a2a2a" transform="translate(604.50,150.51) scale(0.82,1)">-0.25</text>
<text x="0.00" y="0.00" font-size="8.3" text-anchor="middle" font-weight="normal" fill="#2a2a2a" transform="translate(649.38,150.51) scale(0.82,1)">0.12</text>
<text x="0.00" y="0.00" font-size="8.3" text-anchor="middle" font-weight="normal" fill="#2a2a2a" transform="translate(694.26,150.51) scale(0.82,1)">0.17</text>
<text x="0.00" y="0.00" font-size="7.3" text-anchor="start" font-weight="normal" fill="#3a3a3a" stroke="#3a3a3a" stroke-width="0.1" transform="translate(721.00,149.65) scale(0.905,1)">DSEL</text>
<text x="0.00" y="0.00" font-size="8.3" text-anchor="middle" font-weight="normal" fill="#2a2a2a" transform="translate(514.74,159.40) scale(0.82,1)">-0.14</text>
<text x="0.00" y="0.00" font-size="8.3" text-anchor="middle" font-weight="normal" fill="#2a2a2a" transform="translate(559.62,159.40) scale(0.82,1)">-0.06</text>
<text x="0.00" y="0.00" font-size="8.3" text-anchor="middle" font-weight="normal" fill="#2a2a2a" transform="translate(604.50,159.40) scale(0.82,1)">-0.10</text>
<text x="0.00" y="0.00" font-size="8.3" text-anchor="middle" font-weight="normal" fill="#2a2a2a" transform="translate(649.38,159.40) scale(0.82,1)">0.05</text>
<text x="0.00" y="0.00" font-size="8.3" text-anchor="middle" font-weight="normal" fill="#2a2a2a" transform="translate(694.26,159.40) scale(0.82,1)">0.08</text>
<text x="0.00" y="0.00" font-size="7.3" text-anchor="start" font-weight="normal" fill="#3a3a3a" stroke="#3a3a3a" stroke-width="0.1" transform="translate(721.00,158.54) scale(0.905,1)">CENPH</text>
<text x="0.00" y="0.00" font-size="8.3" text-anchor="middle" font-weight="normal" fill="#2a2a2a" transform="translate(514.74,168.28) scale(0.82,1)">-0.06</text>
<text x="0.00" y="0.00" font-size="8.3" text-anchor="middle" font-weight="normal" fill="#2a2a2a" transform="translate(559.62,168.28) scale(0.82,1)">-0.06</text>
<text x="0.00" y="0.00" font-size="8.3" text-anchor="middle" font-weight="normal" fill="#2a2a2a" transform="translate(604.50,168.28) scale(0.82,1)">-0.23</text>
<text x="0.00" y="0.00" font-size="8.3" text-anchor="middle" font-weight="normal" fill="#2a2a2a" transform="translate(649.38,168.28) scale(0.82,1)">-0.04</text>
<text x="0.00" y="0.00" font-size="8.3" text-anchor="middle" font-weight="normal" fill="#2a2a2a" transform="translate(694.26,168.28) scale(0.82,1)">0.08</text>
<text x="0.00" y="0.00" font-size="7.3" text-anchor="start" font-weight="normal" fill="#3a3a3a" stroke="#3a3a3a" stroke-width="0.1" transform="translate(721.00,167.42) scale(0.905,1)">POLA2</text>
<text x="0.00" y="0.00" font-size="8.3" text-anchor="middle" font-weight="normal" fill="#2a2a2a" transform="translate(514.74,177.17) scale(0.82,1)">0.05</text>
<text x="0.00" y="0.00" font-size="8.3" text-anchor="middle" font-weight="normal" fill="#2a2a2a" transform="translate(559.62,177.17) scale(0.82,1)">-0.09</text>
<text x="0.00" y="0.00" font-size="8.3" text-anchor="middle" font-weight="normal" fill="#2a2a2a" transform="translate(604.50,177.17) scale(0.82,1)">-0.16</text>
<text x="0.00" y="0.00" font-size="8.3" text-anchor="middle" font-weight="normal" fill="#2a2a2a" transform="translate(649.38,177.17) scale(0.82,1)">0.05</text>
<text x="0.00" y="0.00" font-size="8.3" text-anchor="middle" font-weight="normal" fill="#2a2a2a" transform="translate(694.26,177.17) scale(0.82,1)">-0.04</text>
<text x="0.00" y="0.00" font-size="7.3" text-anchor="start" font-weight="normal" fill="#3a3a3a" stroke="#3a3a3a" stroke-width="0.1" transform="translate(721.00,176.31) scale(0.905,1)">NEBL</text>
<text x="0.00" y="0.00" font-size="8.3" text-anchor="middle" font-weight="normal" fill="#2a2a2a" transform="translate(514.74,186.05) scale(0.82,1)">0.01</text>
<text x="0.00" y="0.00" font-size="8.3" text-anchor="middle" font-weight="normal" fill="#2a2a2a" transform="translate(559.62,186.05) scale(0.82,1)">-0.10</text>
<text x="0.00" y="0.00" font-size="8.3" text-anchor="middle" font-weight="normal" fill="#2a2a2a" transform="translate(604.50,186.05) scale(0.82,1)">0.02</text>
<text x="0.00" y="0.00" font-size="8.3" text-anchor="middle" font-weight="normal" fill="#2a2a2a" transform="translate(649.38,186.05) scale(0.82,1)">-0.08</text>
<text x="0.00" y="0.00" font-size="8.3" text-anchor="middle" font-weight="normal" fill="#2a2a2a" transform="translate(694.26,186.05) scale(0.82,1)">-0.08</text>
<text x="0.00" y="0.00" font-size="7.3" text-anchor="start" font-weight="normal" fill="#3a3a3a" stroke="#3a3a3a" stroke-width="0.1" transform="translate(721.00,185.19) scale(0.905,1)">USF1</text>
<text x="0.00" y="0.00" font-size="8.3" text-anchor="middle" font-weight="normal" fill="#2a2a2a" transform="translate(514.74,194.94) scale(0.82,1)">-0.03</text>
<text x="0.00" y="0.00" font-size="8.3" text-anchor="middle" font-weight="normal" fill="#2a2a2a" transform="translate(559.62,194.94) scale(0.82,1)">-0.05</text>
<text x="0.00" y="0.00" font-size="8.3" text-anchor="middle" font-weight="normal" fill="#2a2a2a" transform="translate(604.50,194.94) scale(0.82,1)">-0.05</text>
<text x="0.00" y="0.00" font-size="8.3" text-anchor="middle" font-weight="normal" fill="#2a2a2a" transform="translate(649.38,194.94) scale(0.82,1)">-0.02</text>
<text x="0.00" y="0.00" font-size="8.3" text-anchor="middle" font-weight="normal" fill="#2a2a2a" transform="translate(694.26,194.94) scale(0.82,1)">-0.05</text>
<text x="0.00" y="0.00" font-size="7.3" text-anchor="start" font-weight="normal" fill="#3a3a3a" stroke="#3a3a3a" stroke-width="0.1" transform="translate(721.00,194.08) scale(0.905,1)">TMEM8B</text>
<text x="0.00" y="0.00" font-size="8.3" text-anchor="middle" font-weight="normal" fill="#2a2a2a" transform="translate(514.74,203.82) scale(0.82,1)">-0.02</text>
<text x="0.00" y="0.00" font-size="8.3" text-anchor="middle" font-weight="normal" fill="#2a2a2a" transform="translate(559.62,203.82) scale(0.82,1)">-0.04</text>
<text x="0.00" y="0.00" font-size="8.3" text-anchor="middle" font-weight="normal" fill="#2a2a2a" transform="translate(604.50,203.82) scale(0.82,1)">0.03</text>
<text x="0.00" y="0.00" font-size="8.3" text-anchor="middle" font-weight="normal" fill="#2a2a2a" transform="translate(649.38,203.82) scale(0.82,1)">0.06</text>
<text x="0.00" y="0.00" font-size="8.3" text-anchor="middle" font-weight="normal" fill="#2a2a2a" transform="translate(694.26,203.82) scale(0.82,1)">0.17</text>
<text x="0.00" y="0.00" font-size="7.3" text-anchor="start" font-weight="normal" fill="#3a3a3a" stroke="#3a3a3a" stroke-width="0.1" transform="translate(721.00,202.96) scale(0.905,1)">CLSTN3</text>
<text x="0.00" y="0.00" font-size="8.3" text-anchor="middle" font-weight="normal" fill="#2a2a2a" transform="translate(514.74,212.71) scale(0.82,1)">-0.00</text>
<text x="0.00" y="0.00" font-size="8.3" text-anchor="middle" font-weight="normal" fill="#2a2a2a" transform="translate(559.62,212.71) scale(0.82,1)">-0.04</text>
<text x="0.00" y="0.00" font-size="8.3" text-anchor="middle" font-weight="normal" fill="#2a2a2a" transform="translate(604.50,212.71) scale(0.82,1)">0.14</text>
<text x="0.00" y="0.00" font-size="8.3" text-anchor="middle" font-weight="normal" fill="#2a2a2a" transform="translate(649.38,212.71) scale(0.82,1)">-0.07</text>
<text x="0.00" y="0.00" font-size="8.3" text-anchor="middle" font-weight="normal" fill="#2a2a2a" transform="translate(694.26,212.71) scale(0.82,1)">0.07</text>
<text x="0.00" y="0.00" font-size="7.3" text-anchor="start" font-weight="normal" fill="#3a3a3a" stroke="#3a3a3a" stroke-width="0.1" transform="translate(721.00,211.85) scale(0.905,1)">DCAF15</text>
<text x="0.00" y="0.00" font-size="8.3" text-anchor="middle" font-weight="normal" fill="#2a2a2a" transform="translate(514.74,221.60) scale(0.82,1)">0.07</text>
<text x="0.00" y="0.00" font-size="8.3" text-anchor="middle" font-weight="normal" fill="#2a2a2a" transform="translate(559.62,221.60) scale(0.82,1)">0.04</text>
<text x="0.00" y="0.00" font-size="8.3" text-anchor="middle" font-weight="normal" fill="#2a2a2a" transform="translate(604.50,221.60) scale(0.82,1)">0.02</text>
<text x="0.00" y="0.00" font-size="8.3" text-anchor="middle" font-weight="normal" fill="#2a2a2a" transform="translate(649.38,221.60) scale(0.82,1)">-0.13</text>
<text x="0.00" y="0.00" font-size="8.3" text-anchor="middle" font-weight="normal" fill="#2a2a2a" transform="translate(694.26,221.60) scale(0.82,1)">0.15</text>
<text x="0.00" y="0.00" font-size="7.3" text-anchor="start" font-weight="normal" fill="#3a3a3a" stroke="#3a3a3a" stroke-width="0.1" transform="translate(721.00,220.74) scale(0.905,1)">HAX1</text>
<text x="0.00" y="0.00" font-size="8.3" text-anchor="middle" font-weight="normal" fill="#2a2a2a" transform="translate(514.74,230.48) scale(0.82,1)">0.01</text>
<text x="0.00" y="0.00" font-size="8.3" text-anchor="middle" font-weight="normal" fill="#2a2a2a" transform="translate(559.62,230.48) scale(0.82,1)">0.05</text>
<text x="0.00" y="0.00" font-size="8.3" text-anchor="middle" font-weight="normal" fill="#2a2a2a" transform="translate(604.50,230.48) scale(0.82,1)">-0.01</text>
<text x="0.00" y="0.00" font-size="8.3" text-anchor="middle" font-weight="normal" fill="#2a2a2a" transform="translate(649.38,230.48) scale(0.82,1)">-0.13</text>
<text x="0.00" y="0.00" font-size="8.3" text-anchor="middle" font-weight="normal" fill="#2a2a2a" transform="translate(694.26,230.48) scale(0.82,1)">0.03</text>
<text x="0.00" y="0.00" font-size="7.3" text-anchor="start" font-weight="normal" fill="#3a3a3a" stroke="#3a3a3a" stroke-width="0.1" transform="translate(721.00,229.62) scale(0.905,1)">PHACTR4</text>
<text x="0.00" y="0.00" font-size="8.3" text-anchor="middle" font-weight="normal" fill="#2a2a2a" transform="translate(514.74,239.37) scale(0.82,1)">-0.02</text>
<text x="0.00" y="0.00" font-size="8.3" text-anchor="middle" font-weight="normal" fill="#2a2a2a" transform="translate(559.62,239.37) scale(0.82,1)">0.03</text>
<text x="0.00" y="0.00" font-size="8.3" text-anchor="middle" font-weight="normal" fill="#2a2a2a" transform="translate(604.50,239.37) scale(0.82,1)">-0.24</text>
<text x="0.00" y="0.00" font-size="8.3" text-anchor="middle" font-weight="normal" fill="#2a2a2a" transform="translate(649.38,239.37) scale(0.82,1)">-0.34</text>
<text x="0.00" y="0.00" font-size="8.3" text-anchor="middle" font-weight="normal" fill="#2a2a2a" transform="translate(694.26,239.37) scale(0.82,1)">-0.09</text>
<text x="0.00" y="0.00" font-size="7.3" text-anchor="start" font-weight="normal" fill="#3a3a3a" stroke="#3a3a3a" stroke-width="0.1" transform="translate(721.00,238.51) scale(0.905,1)">CNN3</text>
<text x="0.00" y="0.00" font-size="8.3" text-anchor="middle" font-weight="normal" fill="#2a2a2a" transform="translate(514.74,248.25) scale(0.82,1)">-0.06</text>
<text x="0.00" y="0.00" font-size="8.3" text-anchor="middle" font-weight="normal" fill="#2a2a2a" transform="translate(559.62,248.25) scale(0.82,1)">-0.15</text>
<text x="0.00" y="0.00" font-size="8.3" text-anchor="middle" font-weight="normal" fill="#2a2a2a" transform="translate(604.50,248.25) scale(0.82,1)">-0.10</text>
<text x="0.00" y="0.00" font-size="8.3" text-anchor="middle" font-weight="normal" fill="#2a2a2a" transform="translate(649.38,248.25) scale(0.82,1)">-0.22</text>
<text x="0.00" y="0.00" font-size="8.3" text-anchor="middle" font-weight="normal" fill="#2a2a2a" transform="translate(694.26,248.25) scale(0.82,1)">0.16</text>
<text x="0.00" y="0.00" font-size="7.3" text-anchor="start" font-weight="normal" fill="#3a3a3a" stroke="#3a3a3a" stroke-width="0.1" transform="translate(721.00,247.39) scale(0.905,1)">ZNHIT6</text>
<text x="0.00" y="0.00" font-size="8.3" text-anchor="middle" font-weight="normal" fill="#2a2a2a" transform="translate(514.74,257.14) scale(0.82,1)">-0.02</text>
<text x="0.00" y="0.00" font-size="8.3" text-anchor="middle" font-weight="normal" fill="#2a2a2a" transform="translate(559.62,257.14) scale(0.82,1)">-0.13</text>
<text x="0.00" y="0.00" font-size="8.3" text-anchor="middle" font-weight="normal" fill="#2a2a2a" transform="translate(604.50,257.14) scale(0.82,1)">0.12</text>
<text x="0.00" y="0.00" font-size="8.3" text-anchor="middle" font-weight="normal" fill="#2a2a2a" transform="translate(649.38,257.14) scale(0.82,1)">-0.27</text>
<text x="0.00" y="0.00" font-size="8.3" text-anchor="middle" font-weight="normal" fill="#2a2a2a" transform="translate(694.26,257.14) scale(0.82,1)">0.08</text>
<text x="0.00" y="0.00" font-size="7.3" text-anchor="start" font-weight="normal" fill="#3a3a3a" stroke="#3a3a3a" stroke-width="0.1" transform="translate(721.00,256.28) scale(0.905,1)">MRAS</text>
<text x="0.00" y="0.00" font-size="8.3" text-anchor="middle" font-weight="normal" fill="#2a2a2a" transform="translate(514.74,266.02) scale(0.82,1)">0.00</text>
<text x="0.00" y="0.00" font-size="8.3" text-anchor="middle" font-weight="normal" fill="#2a2a2a" transform="translate(559.62,266.02) scale(0.82,1)">0.07</text>
<text x="0.00" y="0.00" font-size="8.3" text-anchor="middle" font-weight="normal" fill="#2a2a2a" transform="translate(604.50,266.02) scale(0.82,1)">0.33</text>
<text x="0.00" y="0.00" font-size="8.3" text-anchor="middle" font-weight="normal" fill="#2a2a2a" transform="translate(649.38,266.02) scale(0.82,1)">-0.33</text>
<text x="0.00" y="0.00" font-size="8.3" text-anchor="middle" font-weight="normal" fill="#2a2a2a" transform="translate(694.26,266.02) scale(0.82,1)">0.19</text>
<text x="0.00" y="0.00" font-size="7.3" text-anchor="start" font-weight="normal" fill="#3a3a3a" stroke="#3a3a3a" stroke-width="0.1" transform="translate(721.00,265.16) scale(0.905,1)">PMEPA1</text>
<text x="0.00" y="0.00" font-size="8.3" text-anchor="middle" font-weight="normal" fill="#2a2a2a" transform="translate(514.74,274.91) scale(0.82,1)">0.01</text>
<text x="0.00" y="0.00" font-size="8.3" text-anchor="middle" font-weight="normal" fill="#2a2a2a" transform="translate(559.62,274.91) scale(0.82,1)">0.40</text>
<text x="0.00" y="0.00" font-size="8.3" text-anchor="middle" font-weight="normal" fill="#2a2a2a" transform="translate(604.50,274.91) scale(0.82,1)">0.38</text>
<text x="0.00" y="0.00" font-size="8.3" text-anchor="middle" font-weight="normal" fill="#2a2a2a" transform="translate(649.38,274.91) scale(0.82,1)">-0.04</text>
<text x="0.00" y="0.00" font-size="8.3" text-anchor="middle" font-weight="normal" fill="#2a2a2a" transform="translate(694.26,274.91) scale(0.82,1)">-0.00</text>
<text x="0.00" y="0.00" font-size="7.3" text-anchor="start" font-weight="normal" fill="#3a3a3a" stroke="#3a3a3a" stroke-width="0.1" transform="translate(721.00,274.05) scale(0.905,1)">CA2</text>
<text x="0.00" y="0.00" font-size="8.3" text-anchor="middle" font-weight="normal" fill="#2a2a2a" transform="translate(514.74,283.79) scale(0.82,1)">0.30</text>
<text x="0.00" y="0.00" font-size="8.3" text-anchor="middle" font-weight="normal" fill="#2a2a2a" transform="translate(559.62,283.79) scale(0.82,1)">0.14</text>
<text x="0.00" y="0.00" font-size="8.3" text-anchor="middle" font-weight="normal" fill="#2a2a2a" transform="translate(604.50,283.79) scale(0.82,1)">-0.04</text>
<text x="0.00" y="0.00" font-size="8.3" text-anchor="middle" font-weight="normal" fill="#2a2a2a" transform="translate(649.38,283.79) scale(0.82,1)">0.15</text>
<text x="0.00" y="0.00" font-size="8.3" text-anchor="middle" font-weight="normal" fill="#2a2a2a" transform="translate(694.26,283.79) scale(0.82,1)">0.31</text>
<text x="0.00" y="0.00" font-size="7.3" text-anchor="start" font-weight="normal" fill="#3a3a3a" stroke="#3a3a3a" stroke-width="0.1" transform="translate(721.00,282.93) scale(0.905,1)">SIX2</text>
<text x="0.00" y="0.00" font-size="8.3" text-anchor="middle" font-weight="normal" fill="#2a2a2a" transform="translate(514.74,292.68) scale(0.82,1)">0.31</text>
<text x="0.00" y="0.00" font-size="8.3" text-anchor="middle" font-weight="normal" fill="#2a2a2a" transform="translate(559.62,292.68) scale(0.82,1)">0.24</text>
<text x="0.00" y="0.00" font-size="8.3" text-anchor="middle" font-weight="normal" fill="#2a2a2a" transform="translate(604.50,292.68) scale(0.82,1)">0.23</text>
<text x="0.00" y="0.00" font-size="8.3" text-anchor="middle" font-weight="normal" fill="#2a2a2a" transform="translate(649.38,292.68) scale(0.82,1)">0.11</text>
<text x="0.00" y="0.00" font-size="8.3" text-anchor="middle" font-weight="normal" fill="#2a2a2a" transform="translate(694.26,292.68) scale(0.82,1)">0.33</text>
<text x="0.00" y="0.00" font-size="7.3" text-anchor="start" font-weight="normal" fill="#3a3a3a" stroke="#3a3a3a" stroke-width="0.1" transform="translate(721.00,291.82) scale(0.905,1)">CTSC</text>
<text x="0.00" y="0.00" font-size="8.3" text-anchor="middle" font-weight="normal" fill="#2a2a2a" transform="translate(514.74,301.56) scale(0.82,1)">0.23</text>
<text x="0.00" y="0.00" font-size="8.3" text-anchor="middle" font-weight="normal" fill="#2a2a2a" transform="translate(559.62,301.56) scale(0.82,1)">0.07</text>
<text x="0.00" y="0.00" font-size="8.3" text-anchor="middle" font-weight="normal" fill="#2a2a2a" transform="translate(604.50,301.56) scale(0.82,1)">0.12</text>
<text x="0.00" y="0.00" font-size="8.3" text-anchor="middle" font-weight="normal" fill="#2a2a2a" transform="translate(649.38,301.56) scale(0.82,1)">-0.00</text>
<text x="0.00" y="0.00" font-size="8.3" text-anchor="middle" font-weight="normal" fill="#2a2a2a" transform="translate(694.26,301.56) scale(0.82,1)">0.08</text>
<text x="0.00" y="0.00" font-size="7.3" text-anchor="start" font-weight="normal" fill="#3a3a3a" stroke="#3a3a3a" stroke-width="0.1" transform="translate(721.00,300.70) scale(0.905,1)">SHISA5</text>
<text x="0.00" y="0.00" font-size="8.3" text-anchor="middle" font-weight="normal" fill="#2a2a2a" transform="translate(514.74,310.45) scale(0.82,1)">0.24</text>
<text x="0.00" y="0.00" font-size="8.3" text-anchor="middle" font-weight="normal" fill="#2a2a2a" transform="translate(559.62,310.45) scale(0.82,1)">0.03</text>
<text x="0.00" y="0.00" font-size="8.3" text-anchor="middle" font-weight="normal" fill="#2a2a2a" transform="translate(604.50,310.45) scale(0.82,1)">0.12</text>
<text x="0.00" y="0.00" font-size="8.3" text-anchor="middle" font-weight="normal" fill="#2a2a2a" transform="translate(649.38,310.45) scale(0.82,1)">0.01</text>
<text x="0.00" y="0.00" font-size="8.3" text-anchor="middle" font-weight="normal" fill="#2a2a2a" transform="translate(694.26,310.45) scale(0.82,1)">-0.01</text>
<text x="0.00" y="0.00" font-size="7.3" text-anchor="start" font-weight="normal" fill="#3a3a3a" stroke="#3a3a3a" stroke-width="0.1" transform="translate(721.00,309.59) scale(0.905,1)">CCDC12</text>
<text x="0.00" y="0.00" font-size="8.3" text-anchor="middle" font-weight="normal" fill="#2a2a2a" transform="translate(514.74,319.33) scale(0.82,1)">0.12</text>
<text x="0.00" y="0.00" font-size="8.3" text-anchor="middle" font-weight="normal" fill="#2a2a2a" transform="translate(559.62,319.33) scale(0.82,1)">0.09</text>
<text x="0.00" y="0.00" font-size="8.3" text-anchor="middle" font-weight="normal" fill="#2a2a2a" transform="translate(604.50,319.33) scale(0.82,1)">0.23</text>
<text x="0.00" y="0.00" font-size="8.3" text-anchor="middle" font-weight="normal" fill="#2a2a2a" transform="translate(649.38,319.33) scale(0.82,1)">-0.02</text>
<text x="0.00" y="0.00" font-size="8.3" text-anchor="middle" font-weight="normal" fill="#2a2a2a" transform="translate(694.26,319.33) scale(0.82,1)">-0.01</text>
<text x="0.00" y="0.00" font-size="7.3" text-anchor="start" font-weight="normal" fill="#3a3a3a" stroke="#3a3a3a" stroke-width="0.1" transform="translate(721.00,318.47) scale(0.905,1)">FAM83E</text>
<text x="0.00" y="0.00" font-size="8.3" text-anchor="middle" font-weight="normal" fill="#2a2a2a" transform="translate(514.74,328.22) scale(0.82,1)">0.11</text>
<text x="0.00" y="0.00" font-size="8.3" text-anchor="middle" font-weight="normal" fill="#2a2a2a" transform="translate(559.62,328.22) scale(0.82,1)">0.14</text>
<text x="0.00" y="0.00" font-size="8.3" text-anchor="middle" font-weight="normal" fill="#2a2a2a" transform="translate(604.50,328.22) scale(0.82,1)">0.08</text>
<text x="0.00" y="0.00" font-size="8.3" text-anchor="middle" font-weight="normal" fill="#2a2a2a" transform="translate(649.38,328.22) scale(0.82,1)">-0.00</text>
<text x="0.00" y="0.00" font-size="8.3" text-anchor="middle" font-weight="normal" fill="#2a2a2a" transform="translate(694.26,328.22) scale(0.82,1)">0.06</text>
<text x="0.00" y="0.00" font-size="7.3" text-anchor="start" font-weight="normal" fill="#3a3a3a" stroke="#3a3a3a" stroke-width="0.1" transform="translate(721.00,327.36) scale(0.905,1)">CYP2S1</text>
<text x="0.00" y="0.00" font-size="8.3" text-anchor="middle" font-weight="normal" fill="#2a2a2a" transform="translate(514.74,337.10) scale(0.82,1)">0.46</text>
<text x="0.00" y="0.00" font-size="8.3" text-anchor="middle" font-weight="normal" fill="#2a2a2a" transform="translate(559.62,337.10) scale(0.82,1)">0.02</text>
<text x="0.00" y="0.00" font-size="8.3" text-anchor="middle" font-weight="normal" fill="#2a2a2a" transform="translate(604.50,337.10) scale(0.82,1)">0.17</text>
<text x="0.00" y="0.00" font-size="8.3" text-anchor="middle" font-weight="normal" fill="#2a2a2a" transform="translate(649.38,337.10) scale(0.82,1)">-0.20</text>
<text x="0.00" y="0.00" font-size="8.3" text-anchor="middle" font-weight="normal" fill="#2a2a2a" transform="translate(694.26,337.10) scale(0.82,1)">0.10</text>
<text x="0.00" y="0.00" font-size="7.3" text-anchor="start" font-weight="normal" fill="#3a3a3a" stroke="#3a3a3a" stroke-width="0.1" transform="translate(721.00,336.24) scale(0.905,1)">GNPNAT1</text>
<text x="0.00" y="0.00" font-size="8.3" text-anchor="middle" font-weight="normal" fill="#2a2a2a" transform="translate(514.74,345.99) scale(0.82,1)">0.36</text>
<text x="0.00" y="0.00" font-size="8.3" text-anchor="middle" font-weight="normal" fill="#2a2a2a" transform="translate(559.62,345.99) scale(0.82,1)">0.10</text>
<text x="0.00" y="0.00" font-size="8.3" text-anchor="middle" font-weight="normal" fill="#2a2a2a" transform="translate(604.50,345.99) scale(0.82,1)">0.24</text>
<text x="0.00" y="0.00" font-size="8.3" text-anchor="middle" font-weight="normal" fill="#2a2a2a" transform="translate(649.38,345.99) scale(0.82,1)">-0.07</text>
<text x="0.00" y="0.00" font-size="8.3" text-anchor="middle" font-weight="normal" fill="#2a2a2a" transform="translate(694.26,345.99) scale(0.82,1)">-0.12</text>
<text x="0.00" y="0.00" font-size="7.3" text-anchor="start" font-weight="normal" fill="#3a3a3a" stroke="#3a3a3a" stroke-width="0.1" transform="translate(721.00,345.13) scale(0.905,1)">CST3</text>
<text x="0.00" y="0.00" font-size="8.3" text-anchor="middle" font-weight="normal" fill="#2a2a2a" transform="translate(514.74,354.87) scale(0.82,1)">1.03</text>
<text x="0.00" y="0.00" font-size="8.3" text-anchor="middle" font-weight="normal" fill="#2a2a2a" transform="translate(559.62,354.87) scale(0.82,1)">0.35</text>
<text x="0.00" y="0.00" font-size="8.3" text-anchor="middle" font-weight="normal" fill="#2a2a2a" transform="translate(604.50,354.87) scale(0.82,1)">0.64</text>
<text x="0.00" y="0.00" font-size="8.3" text-anchor="middle" font-weight="normal" fill="#2a2a2a" transform="translate(649.38,354.87) scale(0.82,1)">0.02</text>
<text x="0.00" y="0.00" font-size="8.3" text-anchor="middle" font-weight="normal" fill="#2a2a2a" transform="translate(694.26,354.87) scale(0.82,1)">0.09</text>
<text x="0.00" y="0.00" font-size="7.3" text-anchor="start" font-weight="normal" fill="#3a3a3a" stroke="#3a3a3a" stroke-width="0.1" transform="translate(721.00,354.01) scale(0.905,1)">UPK1B</text>
<text x="0.00" y="0.00" font-size="8.3" text-anchor="middle" font-weight="normal" fill="#2a2a2a" transform="translate(514.74,363.76) scale(0.82,1)">0.57</text>
<text x="0.00" y="0.00" font-size="8.3" text-anchor="middle" font-weight="normal" fill="#2a2a2a" transform="translate(559.62,363.76) scale(0.82,1)">0.44</text>
<text x="0.00" y="0.00" font-size="8.3" text-anchor="middle" font-weight="normal" fill="#2a2a2a" transform="translate(604.50,363.76) scale(0.82,1)">0.72</text>
<text x="0.00" y="0.00" font-size="8.3" text-anchor="middle" font-weight="normal" fill="#2a2a2a" transform="translate(649.38,363.76) scale(0.82,1)">0.08</text>
<text x="0.00" y="0.00" font-size="8.3" text-anchor="middle" font-weight="normal" fill="#2a2a2a" transform="translate(694.26,363.76) scale(0.82,1)">-0.09</text>
<text x="0.00" y="0.00" font-size="7.3" text-anchor="start" font-weight="normal" fill="#3a3a3a" stroke="#3a3a3a" stroke-width="0.1" transform="translate(721.00,362.90) scale(0.905,1)">CDH26</text>
<text x="0.00" y="0.00" font-size="8.3" text-anchor="middle" font-weight="normal" fill="#2a2a2a" transform="translate(514.74,372.65) scale(0.82,1)">0.36</text>
<text x="0.00" y="0.00" font-size="8.3" text-anchor="middle" font-weight="normal" fill="#2a2a2a" transform="translate(559.62,372.65) scale(0.82,1)">0.14</text>
<text x="0.00" y="0.00" font-size="8.3" text-anchor="middle" font-weight="normal" fill="#2a2a2a" transform="translate(604.50,372.65) scale(0.82,1)">0.62</text>
<text x="0.00" y="0.00" font-size="8.3" text-anchor="middle" font-weight="normal" fill="#2a2a2a" transform="translate(649.38,372.65) scale(0.82,1)">0.07</text>
<text x="0.00" y="0.00" font-size="8.3" text-anchor="middle" font-weight="normal" fill="#2a2a2a" transform="translate(694.26,372.65) scale(0.82,1)">-0.05</text>
<text x="0.00" y="0.00" font-size="7.3" text-anchor="start" font-weight="normal" fill="#3a3a3a" stroke="#3a3a3a" stroke-width="0.1" transform="translate(721.00,371.79) scale(0.905,1)">MFSD2A</text>
<path d="M515.3,51.7V25.2H582.9V32.3" fill="none" stroke="#686868" stroke-width="1.15" stroke-linejoin="miter" stroke-linecap="square"/>
<path d="M560.2,51.7V32.3H604.6V51.7" fill="none" stroke="#686868" stroke-width="1.15" stroke-linejoin="miter" stroke-linecap="square"/>
<path d="M548.6,25.2V2.3H672.4V21.4" fill="none" stroke="#686868" stroke-width="1.15" stroke-linejoin="miter" stroke-linecap="square"/>
<path d="M649.5,51.7V21.4H694.6V51.7" fill="none" stroke="#686868" stroke-width="1.15" stroke-linejoin="miter" stroke-linecap="square"/>
<line x1="515.30" y1="61.30" x2="515.30" y2="71.30" stroke="#686868" stroke-width="1.15"/>
<line x1="560.20" y1="61.30" x2="560.20" y2="71.30" stroke="#686868" stroke-width="1.15"/>
<line x1="604.60" y1="61.30" x2="604.60" y2="71.30" stroke="#686868" stroke-width="1.15"/>
<line x1="649.50" y1="61.30" x2="649.50" y2="71.30" stroke="#686868" stroke-width="1.15"/>
<line x1="694.60" y1="61.30" x2="694.60" y2="71.30" stroke="#686868" stroke-width="1.15"/>
<rect x="497.70" y="51.20" width="28.50" height="10.00" fill="#fff" stroke="#9c9c9c" stroke-width="1"/>
<text x="0.00" y="0.00" font-size="7.0" text-anchor="middle" font-weight="bold" fill="#111" transform="translate(511.95,58.22) scale(0.85,1)">AECs</text>
<rect x="539.50" y="51.20" width="28.50" height="10.00" fill="#fff" stroke="#9c9c9c" stroke-width="1"/>
<text x="0.00" y="0.00" font-size="7.0" text-anchor="middle" font-weight="bold" fill="#111" transform="translate(553.75,58.22) scale(0.85,1)">NECs</text>
<rect x="589.00" y="51.20" width="28.70" height="10.00" fill="#fff" stroke="#9c9c9c" stroke-width="1"/>
<text x="0.00" y="0.00" font-size="7.0" text-anchor="middle" font-weight="bold" fill="#111" transform="translate(603.35,58.22) scale(0.85,1)">BECs</text>
<rect x="634.80" y="51.20" width="27.10" height="10.00" fill="#fff" stroke="#9c9c9c" stroke-width="1"/>
<text x="0.00" y="0.00" font-size="7.0" text-anchor="middle" font-weight="bold" fill="#111" transform="translate(648.35,58.22) scale(0.85,1)">WB</text>
<rect x="676.30" y="51.20" width="27.90" height="10.00" fill="#fff" stroke="#9c9c9c" stroke-width="1"/>
<text x="0.00" y="0.00" font-size="7.0" text-anchor="middle" font-weight="bold" fill="#111" transform="translate(690.25,58.22) scale(0.85,1)">ASMs</text>
<path d="M492.60,84.63H488.90V93.51H492.60" fill="none" stroke="#686868" stroke-width="1.15" stroke-linejoin="miter" stroke-linecap="square"/>
<path d="M492.60,111.28H485.40V120.17H492.60" fill="none" stroke="#686868" stroke-width="1.15" stroke-linejoin="miter" stroke-linecap="square"/>
<path d="M492.60,102.40H483.80V115.73H485.40" fill="none" stroke="#686868" stroke-width="1.15" stroke-linejoin="miter" stroke-linecap="square"/>
<path d="M488.90,89.07H478.70V109.06H483.80" fill="none" stroke="#686868" stroke-width="1.15" stroke-linejoin="miter" stroke-linecap="square"/>
<path d="M492.60,75.74H467.80V99.07H478.70" fill="none" stroke="#686868" stroke-width="1.15" stroke-linejoin="miter" stroke-linecap="square"/>
<path d="M492.60,155.71H486.20V164.60H492.60" fill="none" stroke="#686868" stroke-width="1.15" stroke-linejoin="miter" stroke-linecap="square"/>
<path d="M492.60,146.82H484.60V160.15H486.20" fill="none" stroke="#686868" stroke-width="1.15" stroke-linejoin="miter" stroke-linecap="square"/>
<path d="M492.60,137.94H477.40V153.49H484.60" fill="none" stroke="#686868" stroke-width="1.15" stroke-linejoin="miter" stroke-linecap="square"/>
<path d="M492.60,182.37H488.60V191.25H492.60" fill="none" stroke="#686868" stroke-width="1.15" stroke-linejoin="miter" stroke-linecap="square"/>
<path d="M492.60,173.48H484.00V186.81H488.60" fill="none" stroke="#686868" stroke-width="1.15" stroke-linejoin="miter" stroke-linecap="square"/>
<path d="M492.60,217.91H488.20V226.79H492.60" fill="none" stroke="#686868" stroke-width="1.15" stroke-linejoin="miter" stroke-linecap="square"/>
<path d="M492.60,209.02H486.30V222.35H488.20" fill="none" stroke="#686868" stroke-width="1.15" stroke-linejoin="miter" stroke-linecap="square"/>
<path d="M492.60,200.14H483.50V215.69H486.30" fill="none" stroke="#686868" stroke-width="1.15" stroke-linejoin="miter" stroke-linecap="square"/>
<path d="M484.00,180.14H480.30V207.91H483.50" fill="none" stroke="#686868" stroke-width="1.15" stroke-linejoin="miter" stroke-linecap="square"/>
<path d="M492.60,244.56H484.30V253.45H492.60" fill="none" stroke="#686868" stroke-width="1.15" stroke-linejoin="miter" stroke-linecap="square"/>
<path d="M492.60,235.68H477.00V249.01H484.30" fill="none" stroke="#686868" stroke-width="1.15" stroke-linejoin="miter" stroke-linecap="square"/>
<path d="M480.30,194.03H472.40V242.34H477.00" fill="none" stroke="#686868" stroke-width="1.15" stroke-linejoin="miter" stroke-linecap="square"/>
<path d="M477.40,145.71H471.20V218.19H472.40" fill="none" stroke="#686868" stroke-width="1.15" stroke-linejoin="miter" stroke-linecap="square"/>
<path d="M492.60,129.05H463.90V181.95H471.20" fill="none" stroke="#686868" stroke-width="1.15" stroke-linejoin="miter" stroke-linecap="square"/>
<path d="M467.80,87.40H457.00V155.50H463.90" fill="none" stroke="#686868" stroke-width="1.15" stroke-linejoin="miter" stroke-linecap="square"/>
<path d="M492.60,262.33H475.00V271.22H492.60" fill="none" stroke="#686868" stroke-width="1.15" stroke-linejoin="miter" stroke-linecap="square"/>
<path d="M492.60,280.10H482.20V288.99H492.60" fill="none" stroke="#686868" stroke-width="1.15" stroke-linejoin="miter" stroke-linecap="square"/>
<path d="M492.60,297.88H489.40V306.76H492.60" fill="none" stroke="#686868" stroke-width="1.15" stroke-linejoin="miter" stroke-linecap="square"/>
<path d="M492.60,315.65H486.60V324.53H492.60" fill="none" stroke="#686868" stroke-width="1.15" stroke-linejoin="miter" stroke-linecap="square"/>
<path d="M489.40,302.32H486.20V320.09H486.60" fill="none" stroke="#686868" stroke-width="1.15" stroke-linejoin="miter" stroke-linecap="square"/>
<path d="M492.60,333.42H482.20V342.30H492.60" fill="none" stroke="#686868" stroke-width="1.15" stroke-linejoin="miter" stroke-linecap="square"/>
<path d="M486.20,311.20H476.60V337.86H482.20" fill="none" stroke="#686868" stroke-width="1.15" stroke-linejoin="miter" stroke-linecap="square"/>
<path d="M482.20,284.55H472.60V324.53H476.60" fill="none" stroke="#686868" stroke-width="1.15" stroke-linejoin="miter" stroke-linecap="square"/>
<path d="M475.00,266.78H467.80V304.54H472.60" fill="none" stroke="#686868" stroke-width="1.15" stroke-linejoin="miter" stroke-linecap="square"/>
<path d="M492.60,360.07H479.00V368.96H492.60" fill="none" stroke="#686868" stroke-width="1.15" stroke-linejoin="miter" stroke-linecap="square"/>
<path d="M492.60,351.19H466.60V364.51H479.00" fill="none" stroke="#686868" stroke-width="1.15" stroke-linejoin="miter" stroke-linecap="square"/>
<path d="M467.80,285.66H450.30V357.85H466.60" fill="none" stroke="#686868" stroke-width="1.15" stroke-linejoin="miter" stroke-linecap="square"/>
<path d="M457.00,121.45H424.80V321.75H450.30" fill="none" stroke="#686868" stroke-width="1.15" stroke-linejoin="miter" stroke-linecap="square"/>
<rect x="760.8" y="71.1" width="13.1" height="197.6" fill="url(#gr)"/>
<rect x="760.8" y="82.70" width="13.1" height="1.2" fill="#fff" fill-opacity="0.55"/>
<rect x="760.8" y="88.00" width="13.1" height="1.2" fill="#fff" fill-opacity="0.5"/>
<rect x="760.8" y="93.90" width="13.1" height="1.2" fill="#fff" fill-opacity="0.08"/>
<rect x="760.8" y="100.80" width="13.1" height="1.2" fill="#fff" fill-opacity="0.45"/>
<rect x="760.8" y="113.00" width="13.1" height="1.2" fill="#fff" fill-opacity="0.45"/>
<rect x="760.8" y="160.10" width="13.1" height="1.2" fill="#fff" fill-opacity="0.3"/>
<rect x="760.8" y="165.70" width="13.1" height="1.2" fill="#fff" fill-opacity="0.3"/>
<rect x="760.8" y="171.20" width="13.1" height="1.2" fill="#fff" fill-opacity="0.3"/>
<text x="0.00" y="0.00" font-size="6.6" text-anchor="start" font-weight="bold" fill="#111" transform="translate(755.30,68.60) scale(0.92,1)">Log(FC)</text>
<text x="0.00" y="0.00" font-size="6.6" text-anchor="start" font-weight="normal" fill="#333" transform="translate(779.00,78.64) scale(0.93,1)">1</text>
<text x="0.00" y="0.00" font-size="6.6" text-anchor="start" font-weight="normal" fill="#333" transform="translate(779.00,106.14) scale(0.93,1)">0.8</text>
<text x="0.00" y="0.00" font-size="6.6" text-anchor="start" font-weight="normal" fill="#333" transform="translate(779.00,132.64) scale(0.93,1)">0.6</text>
<text x="0.00" y="0.00" font-size="6.6" text-anchor="start" font-weight="normal" fill="#333" transform="translate(779.00,159.04) scale(0.93,1)">0.4</text>
<text x="0.00" y="0.00" font-size="6.6" text-anchor="start" font-weight="normal" fill="#333" transform="translate(779.00,186.84) scale(0.93,1)">0.2</text>
<text x="0.00" y="0.00" font-size="6.6" text-anchor="start" font-weight="normal" fill="#333" transform="translate(779.00,214.14) scale(0.93,1)">0</text>
<text x="0.00" y="0.00" font-size="6.6" text-anchor="start" font-weight="normal" fill="#333" transform="translate(779.00,241.84) scale(0.93,1)">-0.2</text>
<text x="0.00" y="0.00" font-size="6.6" text-anchor="start" font-weight="normal" fill="#333" transform="translate(779.00,269.04) scale(0.93,1)">-0.4</text>
</svg>
</body></html>
